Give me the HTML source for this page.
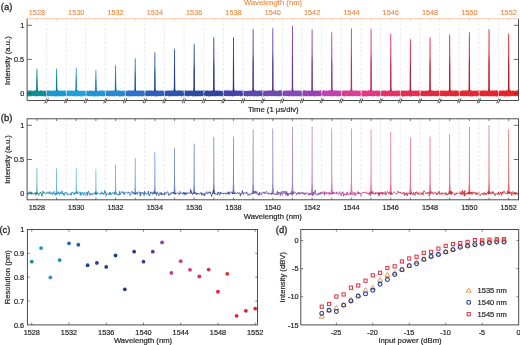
<!DOCTYPE html>
<html><head><meta charset="utf-8"><title>Figure</title>
<style>html,body{margin:0;padding:0;background:#fff;}svg{display:block;font-family:"Liberation Sans",Arial,Helvetica,sans-serif;}</style>
</head><body>
<svg width="520" height="345" viewBox="0 0 520 345" >
<rect width="520" height="345" fill="#ffffff"/>
<g id="panel-a">
<polygon points="27.25,90.5 27.75,90.28 28.24,90.38 28.74,90.82 29.24,90.76 29.73,90.3 30.23,91 30.72,90.34 31.22,90.36 31.72,90.63 32.21,90.76 32.71,90.78 33.21,90.8 33.7,90.64 34.2,90.6 34.69,90.56 35.19,90.2 35.69,90.37 36.18,90.5 36.68,90.21 37.18,90.83 37.67,90.87 38.17,90.51 38.67,90.96 39.16,90.97 39.66,90.59 40.15,90.63 40.65,90.27 41.15,90.5 41.64,90.59 42.14,90.6 42.64,90.8 43.13,90.99 43.63,90.85 44.12,90.45 44.62,90.84 45.12,90.7 45.61,91 46.11,90.34 46.61,90.88 46.61,95.92 46.11,96.26 45.61,96.52 45.12,96.56 44.62,96.48 44.12,95.91 43.63,96.33 43.13,96.5 42.64,96.04 42.14,96.34 41.64,95.97 41.15,96.57 40.65,95.88 40.15,96.12 39.66,95.99 39.16,96.15 38.67,95.92 38.17,96.34 37.67,96.31 37.18,96.28 36.68,96.27 36.18,96.58 35.69,96.1 35.19,96.45 34.69,95.92 34.2,96.06 33.7,96.11 33.21,95.85 32.71,96.28 32.21,96.09 31.72,96.5 31.22,96.21 30.72,96.23 30.23,95.87 29.73,96.39 29.24,96.31 28.74,96.48 28.24,96.21 27.75,96.5 27.25,96.01" fill="#109096"/>
<polygon points="35.73,91 36.18,89.5 36.23,86 36.33,80.77 36.48,69.77 36.73,68.27 37.13,68.27 37.38,69.77 37.53,80.77 37.65,86 37.73,89.5 38.23,91" fill="#109096"/>
<polygon points="36.18,91 36.43,88 36.51,80.77 36.83,76.5 37.03,76.5 37.38,80.77 37.48,88 37.78,91" fill="#0b676c" fill-opacity="0.8"/>
<polygon points="46.91,90.85 47.4,90.26 47.9,90.56 48.39,90.86 48.89,90.29 49.39,90.49 49.88,90.54 50.38,90.7 50.88,90.67 51.37,90.81 51.87,90.97 52.37,90.3 52.86,90.63 53.36,90.56 53.85,90.74 54.35,90.4 54.85,90.98 55.34,90.7 55.84,90.98 56.34,90.9 56.83,90.23 57.33,90.47 57.82,90.66 58.32,90.58 58.82,90.3 59.31,90.72 59.81,90.53 60.31,90.45 60.8,90.72 61.3,90.58 61.8,90.39 62.29,90.27 62.79,90.88 63.28,90.25 63.78,91 64.28,90.4 64.77,90.35 65.27,90.89 65.77,90.66 66.26,90.35 66.26,95.84 65.77,95.96 65.27,96.12 64.77,96.07 64.28,96.58 63.78,96.3 63.28,96.37 62.79,96.34 62.29,96.44 61.8,96 61.3,96.56 60.8,96.22 60.31,96.14 59.81,95.85 59.31,96.54 58.82,96.13 58.32,96.5 57.82,96.14 57.33,96.26 56.83,96.39 56.34,96.52 55.84,96.22 55.34,96.21 54.85,96.58 54.35,96.16 53.85,96.56 53.36,96.02 52.86,96.07 52.37,96.26 51.87,96.56 51.37,96.08 50.88,95.94 50.38,96.09 49.88,95.96 49.39,95.98 48.89,96.38 48.39,96.21 47.9,96.43 47.4,96.3 46.91,95.81" fill="#1b98cc"/>
<polygon points="55.38,91 55.83,89.5 55.88,86 55.98,80.77 56.13,69.77 56.38,68.27 56.78,68.27 57.03,69.77 57.18,80.77 57.3,86 57.38,89.5 57.88,91" fill="#1b98cc"/>
<polygon points="55.83,91 56.08,88 56.16,80.77 56.48,76.5 56.68,76.5 57.03,80.77 57.13,88 57.43,91" fill="#136d92" fill-opacity="0.8"/>
<polygon points="66.56,90.83 67.06,90.27 67.55,90.33 68.05,90.91 68.55,90.52 69.04,90.62 69.54,90.52 70.04,90.47 70.53,90.75 71.03,90.23 71.53,90.63 72.02,90.5 72.52,90.49 73.01,90.85 73.51,90.95 74.01,90.67 74.5,90.39 75,90.35 75.5,90.42 75.99,90.91 76.49,90.27 76.98,90.36 77.48,90.3 77.98,90.58 78.47,90.27 78.97,90.96 79.47,90.98 79.96,90.98 80.46,90.8 80.95,90.8 81.45,90.85 81.95,90.55 82.44,90.97 82.94,90.53 83.44,90.87 83.93,90.46 84.43,90.98 84.93,90.75 85.42,90.25 85.92,90.57 85.92,96.56 85.42,96.25 84.93,95.97 84.43,96.32 83.93,95.82 83.44,95.93 82.94,96.51 82.44,96.49 81.95,96.38 81.45,96.06 80.95,96.44 80.46,96.46 79.96,96.31 79.47,96.33 78.97,95.88 78.47,96.29 77.98,96.31 77.48,96.26 76.98,95.96 76.49,96.51 75.99,96.41 75.5,95.9 75,96.44 74.5,96.49 74.01,96.05 73.51,96.44 73.01,96.3 72.52,95.89 72.02,96.05 71.53,96.07 71.03,95.84 70.53,96.48 70.04,96.57 69.54,96.44 69.04,95.83 68.55,96.26 68.05,95.95 67.55,96.29 67.06,96.33 66.56,96.45" fill="#22a0dc"/>
<polygon points="75.04,91 75.49,89.5 75.54,86 75.64,80.46 75.79,69.08 76.04,67.58 76.44,67.58 76.69,69.08 76.84,80.46 76.96,86 77.04,89.5 77.54,91" fill="#22a0dc"/>
<polygon points="75.49,91 75.74,88 75.82,80.46 76.14,76.12 76.34,76.12 76.69,80.46 76.79,88 77.09,91" fill="#18739e" fill-opacity="0.8"/>
<polygon points="86.22,90.7 86.71,90.8 87.21,90.63 87.71,90.47 88.2,90.92 88.7,90.7 89.2,90.89 89.69,90.47 90.19,90.34 90.68,90.7 91.18,90.7 91.68,90.57 92.17,90.83 92.67,90.8 93.17,90.74 93.66,90.63 94.16,90.93 94.66,90.4 95.15,90.54 95.65,90.76 96.14,90.94 96.64,90.39 97.14,90.9 97.63,90.89 98.13,90.9 98.63,90.93 99.12,90.27 99.62,90.78 100.11,90.75 100.61,90.33 101.11,90.5 101.6,90.85 102.1,90.65 102.6,90.29 103.09,90.7 103.59,90.43 104.09,90.92 104.58,90.42 105.08,90.38 105.57,90.34 105.57,96.41 105.08,95.91 104.58,96.11 104.09,96.54 103.59,96.46 103.09,96.11 102.6,96.38 102.1,96.24 101.6,96.11 101.11,96.23 100.61,96.48 100.11,95.83 99.62,96.14 99.12,96.1 98.63,96.16 98.13,96.38 97.63,96.41 97.14,96.41 96.64,95.95 96.14,96.31 95.65,96.12 95.15,96.42 94.66,96.47 94.16,96.55 93.66,96.6 93.17,96.38 92.67,96.32 92.17,96.44 91.68,95.95 91.18,95.9 90.68,96.52 90.19,96.4 89.69,96.23 89.2,96.01 88.7,95.95 88.2,96.41 87.71,96.22 87.21,95.85 86.71,96.1 86.22,96.34" fill="#2296d4"/>
<polygon points="94.7,91 95.15,89.5 95.2,86 95.3,81.38 95.45,71.13 95.7,69.63 96.1,69.63 96.35,71.13 96.5,81.38 96.62,86 96.7,89.5 97.2,91" fill="#2296d4"/>
<polygon points="95.15,91 95.4,88 95.48,81.38 95.8,77.25 96,77.25 96.35,81.38 96.45,88 96.75,91" fill="#186c98" fill-opacity="0.8"/>
<polygon points="105.87,90.21 106.37,90.88 106.87,90.43 107.36,90.34 107.86,90.26 108.36,90.9 108.85,90.93 109.35,90.21 109.84,90.91 110.34,90.86 110.84,90.54 111.33,90.64 111.83,90.4 112.33,90.85 112.82,90.27 113.32,90.83 113.81,90.38 114.31,90.95 114.81,90.62 115.3,90.97 115.8,90.75 116.3,90.75 116.79,90.42 117.29,90.64 117.79,90.95 118.28,90.2 118.78,90.29 119.27,90.27 119.77,90.8 120.27,90.68 120.76,90.82 121.26,90.9 121.76,90.97 122.25,90.6 122.75,90.9 123.24,90.86 123.74,90.31 124.24,90.61 124.73,90.85 125.23,90.46 125.23,96.28 124.73,96.54 124.24,95.93 123.74,96.41 123.24,95.93 122.75,96.04 122.25,96.39 121.76,96.35 121.26,96.48 120.76,96.37 120.27,96.41 119.77,96.46 119.27,96.41 118.78,96.5 118.28,96.17 117.79,95.99 117.29,95.85 116.79,96.28 116.3,96.05 115.8,95.83 115.3,96.53 114.81,96.2 114.31,96.21 113.81,95.97 113.32,96.58 112.82,95.98 112.33,96.55 111.83,96.58 111.33,95.89 110.84,95.91 110.34,95.94 109.84,96.5 109.35,96.43 108.85,96.12 108.36,96.23 107.86,96.3 107.36,96.21 106.87,96.03 106.37,96.22 105.87,96.01" fill="#2888d0"/>
<polygon points="114.35,91 114.8,89.5 114.85,86 114.95,79.24 115.1,66.36 115.35,64.86 115.75,64.86 116,66.36 116.15,79.24 116.27,86 116.35,89.5 116.85,91" fill="#2888d0"/>
<polygon points="114.8,91 115.05,88 115.13,79.24 115.45,74.62 115.65,74.62 116,79.24 116.1,88 116.4,91" fill="#1c6195" fill-opacity="0.8"/>
<polygon points="125.53,90.74 126.03,90.25 126.52,90.88 127.02,90.59 127.52,90.93 128.01,90.23 128.51,90.54 129,90.36 129.5,90.77 130,90.36 130.49,90.44 130.99,90.49 131.49,90.24 131.98,90.65 132.48,90.67 132.97,90.45 133.47,90.33 133.97,90.73 134.46,90.46 134.96,90.83 135.46,90.56 135.95,90.38 136.45,90.95 136.95,90.42 137.44,90.99 137.94,90.23 138.43,90.63 138.93,90.67 139.43,90.42 139.92,90.58 140.42,90.42 140.92,90.93 141.41,90.55 141.91,90.55 142.4,90.25 142.9,90.97 143.4,90.64 143.89,90.5 144.39,90.56 144.89,90.94 144.89,95.95 144.39,96.14 143.89,96.27 143.4,96.34 142.9,96.33 142.4,96.25 141.91,96.26 141.41,96.49 140.92,96.11 140.42,95.83 139.92,96.37 139.43,96.16 138.93,96.43 138.43,96.48 137.94,96.1 137.44,96.46 136.95,96.07 136.45,96.2 135.95,96.4 135.46,96.17 134.96,96.1 134.46,96.4 133.97,96.12 133.47,96.25 132.97,96.12 132.48,96.31 131.98,96.34 131.49,96.46 130.99,96.3 130.49,96.17 130,96.45 129.5,96.24 129,96.37 128.51,96.4 128.01,96.16 127.52,95.96 127.02,96.5 126.52,95.96 126.03,95.98 125.53,96.27" fill="#2c72c8"/>
<polygon points="134.01,91 134.46,89.5 134.51,86 134.61,76.17 134.76,59.54 135.01,58.04 135.41,58.04 135.66,59.54 135.81,76.17 135.93,86 136.01,89.5 136.51,91" fill="#2c72c8"/>
<polygon points="134.46,91 134.71,88 134.79,76.17 135.11,70.87 135.31,70.87 135.66,76.17 135.76,88 136.06,91" fill="#1f5290" fill-opacity="0.8"/>
<polygon points="145.19,90.77 145.68,90.77 146.18,90.66 146.67,90.2 147.17,90.72 147.67,90.64 148.16,90.7 148.66,90.53 149.16,90.24 149.65,90.29 150.15,90.7 150.65,90.79 151.14,90.29 151.64,90.6 152.13,90.45 152.63,90.94 153.13,90.31 153.62,90.75 154.12,90.6 154.62,90.84 155.11,90.66 155.61,90.34 156.1,90.34 156.6,90.62 157.1,90.39 157.59,90.63 158.09,90.7 158.59,90.56 159.08,90.84 159.58,90.75 160.08,90.43 160.57,90.38 161.07,90.95 161.56,90.41 162.06,90.35 162.56,90.64 163.05,90.95 163.55,90.45 164.05,90.8 164.54,90.49 164.54,95.93 164.05,95.95 163.55,95.82 163.05,96.57 162.56,96.03 162.06,95.94 161.56,95.91 161.07,95.91 160.57,96.31 160.08,96.15 159.58,95.91 159.08,96.19 158.59,96.15 158.09,96.01 157.59,96.08 157.1,96.4 156.6,96.41 156.1,96.3 155.61,96.33 155.11,96.54 154.62,96.19 154.12,96.41 153.62,96.06 153.13,95.91 152.63,95.96 152.13,96.37 151.64,96.42 151.14,96.14 150.65,95.85 150.15,96.01 149.65,96.04 149.16,96.03 148.66,96.57 148.16,95.96 147.67,96.3 147.17,96.22 146.67,96.18 146.18,96.01 145.68,96.31 145.19,96.1" fill="#2d5ebc"/>
<polygon points="153.66,91 154.11,89.5 154.16,86 154.26,73.4 154.41,53.4 154.66,51.9 155.06,51.9 155.31,53.4 155.46,73.4 155.58,86 155.66,89.5 156.16,91" fill="#2d5ebc"/>
<polygon points="154.11,91 154.36,88 154.44,73.4 154.76,67.49 154.96,67.49 155.31,73.4 155.41,88 155.71,91" fill="#204387" fill-opacity="0.8"/>
<polygon points="164.84,90.62 165.34,90.99 165.83,90.63 166.33,90.87 166.83,90.78 167.32,90.37 167.82,90.85 168.32,90.51 168.81,90.67 169.31,90.67 169.81,90.35 170.3,90.87 170.8,90.26 171.29,90.29 171.79,90.47 172.29,90.96 172.78,90.47 173.28,90.52 173.78,90.38 174.27,90.83 174.77,90.24 175.26,90.29 175.76,90.91 176.26,90.75 176.75,90.97 177.25,90.34 177.75,90.27 178.24,90.21 178.74,90.51 179.23,90.47 179.73,90.46 180.23,90.54 180.72,90.24 181.22,90.51 181.72,90.73 182.21,90.59 182.71,90.99 183.21,90.42 183.7,90.44 184.2,90.66 184.2,96.49 183.7,96.16 183.21,96.3 182.71,96.05 182.21,96.29 181.72,96.41 181.22,96.02 180.72,95.87 180.23,96.48 179.73,96.24 179.23,95.83 178.74,96.21 178.24,95.89 177.75,96.45 177.25,95.9 176.75,96.36 176.26,96.01 175.76,96.55 175.26,96.01 174.77,95.97 174.27,96.35 173.78,96.44 173.28,95.91 172.78,96 172.29,96.43 171.79,95.8 171.29,96.12 170.8,96.48 170.3,96.34 169.81,96.52 169.31,96.02 168.81,96.54 168.32,96.16 167.82,96.04 167.32,95.95 166.83,95.91 166.33,95.86 165.83,96.07 165.34,96.4 164.84,96.48" fill="#2c52b0"/>
<polygon points="173.32,91 173.77,89.5 173.82,86 173.92,71.87 174.07,49.99 174.32,48.49 174.72,48.49 174.97,49.99 175.12,71.87 175.24,86 175.32,89.5 175.82,91" fill="#2c52b0"/>
<polygon points="173.77,91 174.02,88 174.1,71.87 174.42,65.62 174.62,65.62 174.97,71.87 175.07,88 175.37,91" fill="#1f3b7e" fill-opacity="0.8"/>
<polygon points="184.5,90.77 184.99,90.39 185.49,90.49 185.99,90.41 186.48,90.7 186.98,90.42 187.48,90.44 187.97,90.69 188.47,90.98 188.96,90.23 189.46,90.43 189.96,90.84 190.45,90.42 190.95,90.78 191.45,90.62 191.94,90.31 192.44,90.64 192.94,90.77 193.43,90.76 193.93,90.94 194.42,90.82 194.92,90.78 195.42,90.86 195.91,90.95 196.41,90.63 196.91,90.83 197.4,90.41 197.9,90.26 198.39,90.78 198.89,90.54 199.39,90.59 199.88,90.94 200.38,90.9 200.88,90.29 201.37,90.62 201.87,90.36 202.37,90.95 202.86,90.52 203.36,90.31 203.85,90.31 203.85,96.25 203.36,96.35 202.86,96.23 202.37,96.1 201.87,96.02 201.37,96.12 200.88,96.39 200.38,96.24 199.88,95.91 199.39,96.45 198.89,96.3 198.39,95.93 197.9,96.19 197.4,96.27 196.91,95.96 196.41,96.24 195.91,96.44 195.42,96.27 194.92,96.4 194.42,96.26 193.93,96.06 193.43,96.32 192.94,96.26 192.44,96.56 191.94,96.25 191.45,95.87 190.95,95.92 190.45,96.11 189.96,95.83 189.46,96.06 188.96,96.57 188.47,96.16 187.97,96.18 187.48,96.45 186.98,96.01 186.48,95.86 185.99,96.41 185.49,96.1 184.99,96.22 184.5,95.8" fill="#2c4aa6"/>
<polygon points="192.98,91 193.43,89.5 193.48,86 193.58,69.72 193.73,45.21 193.98,43.71 194.38,43.71 194.63,45.21 194.78,69.72 194.9,86 194.98,89.5 195.48,91" fill="#2c4aa6"/>
<polygon points="193.43,91 193.68,88 193.76,69.72 194.08,62.99 194.28,62.99 194.63,69.72 194.73,88 195.03,91" fill="#1f3577" fill-opacity="0.8"/>
<polygon points="204.15,90.91 204.65,90.35 205.15,90.26 205.64,90.92 206.14,90.8 206.64,90.86 207.13,90.32 207.63,90.27 208.12,90.96 208.62,90.73 209.12,90.85 209.61,90.62 210.11,90.26 210.61,90.94 211.1,90.86 211.6,90.61 212.09,90.58 212.59,90.4 213.09,90.65 213.58,90.89 214.08,90.72 214.58,90.21 215.07,90.4 215.57,90.91 216.07,90.35 216.56,90.75 217.06,90.37 217.55,90.99 218.05,90.3 218.55,90.87 219.04,90.64 219.54,90.47 220.04,90.59 220.53,90.87 221.03,90.89 221.52,90.77 222.02,90.96 222.52,90.83 223.01,90.9 223.51,90.63 223.51,96.34 223.01,96.39 222.52,96.25 222.02,96.17 221.52,96.25 221.03,95.85 220.53,96.29 220.04,96.53 219.54,95.83 219.04,96.55 218.55,96.07 218.05,95.87 217.55,95.88 217.06,96.52 216.56,95.9 216.07,96.36 215.57,96.58 215.07,95.91 214.58,96.18 214.08,96.37 213.58,95.92 213.09,96.55 212.59,96.28 212.09,96.15 211.6,95.91 211.1,96 210.61,96.39 210.11,96.05 209.61,96.53 209.12,96.51 208.62,96.13 208.12,96.4 207.63,96.12 207.13,96 206.64,96.4 206.14,96.06 205.64,95.83 205.15,96.02 204.65,96.27 204.15,96.09" fill="#2e44a0"/>
<polygon points="212.63,91 213.08,89.5 213.13,86 213.23,66.65 213.38,38.39 213.63,36.89 214.03,36.89 214.28,38.39 214.43,66.65 214.55,86 214.63,89.5 215.13,91" fill="#2e44a0"/>
<polygon points="213.08,91 213.33,88 213.41,66.65 213.73,59.24 213.93,59.24 214.28,66.65 214.38,88 214.68,91" fill="#213073" fill-opacity="0.8"/>
<polygon points="223.81,90.2 224.31,90.87 224.8,90.35 225.3,90.67 225.8,90.37 226.29,90.29 226.79,90.21 227.28,90.79 227.78,90.64 228.28,90.25 228.77,90.24 229.27,90.7 229.77,90.25 230.26,90.68 230.76,90.7 231.25,90.39 231.75,90.62 232.25,90.64 232.74,90.69 233.24,90.65 233.74,90.89 234.23,90.95 234.73,90.4 235.23,90.55 235.72,90.46 236.22,90.36 236.71,90.82 237.21,90.81 237.71,90.78 238.2,90.76 238.7,90.39 239.2,90.7 239.69,90.74 240.19,90.49 240.68,90.85 241.18,90.91 241.68,90.44 242.17,90.39 242.67,90.76 243.17,90.49 243.17,96.57 242.67,96 242.17,95.81 241.68,96.37 241.18,95.96 240.68,96.15 240.19,96.54 239.69,95.82 239.2,95.86 238.7,96.07 238.2,95.96 237.71,95.86 237.21,96.24 236.71,95.83 236.22,95.8 235.72,96.06 235.23,96.07 234.73,96.36 234.23,96.28 233.74,96.22 233.24,95.83 232.74,96.56 232.25,96.59 231.75,96.28 231.25,96.03 230.76,96.59 230.26,95.96 229.77,96 229.27,95.96 228.77,96.58 228.28,95.86 227.78,96.37 227.28,95.92 226.79,96.27 226.29,96.29 225.8,96.08 225.3,96 224.8,96.26 224.31,96.12 223.81,95.83" fill="#4442a8"/>
<polygon points="232.29,91 232.74,89.5 232.79,86 232.89,66.65 233.04,38.39 233.29,36.89 233.69,36.89 233.94,38.39 234.09,66.65 234.21,86 234.29,89.5 234.79,91" fill="#4442a8"/>
<polygon points="232.74,91 232.99,88 233.07,66.65 233.39,59.24 233.59,59.24 233.94,66.65 234.04,88 234.34,91" fill="#302f78" fill-opacity="0.8"/>
<polygon points="243.47,90.28 243.96,90.49 244.46,90.93 244.95,90.75 245.45,90.98 245.95,90.82 246.44,90.98 246.94,90.9 247.44,90.49 247.93,90.92 248.43,90.88 248.93,90.28 249.42,90.73 249.92,90.73 250.41,90.93 250.91,90.36 251.41,90.46 251.9,90.56 252.4,90.51 252.9,90.92 253.39,90.79 253.89,90.53 254.38,90.24 254.88,90.35 255.38,90.49 255.87,90.58 256.37,90.99 256.87,90.29 257.36,90.95 257.86,90.9 258.36,90.45 258.85,90.35 259.35,90.37 259.84,90.64 260.34,90.86 260.84,90.97 261.33,90.32 261.83,90.22 262.33,90.8 262.82,90.31 262.82,95.85 262.33,96.23 261.83,96.58 261.33,96.18 260.84,95.96 260.34,96.36 259.84,95.81 259.35,96.45 258.85,95.97 258.36,96.26 257.86,96.38 257.36,96.3 256.87,96.47 256.37,96.13 255.87,95.92 255.38,95.9 254.88,96.56 254.38,96.56 253.89,96.15 253.39,96.2 252.9,96.21 252.4,95.84 251.9,96.26 251.41,96.59 250.91,95.84 250.41,95.88 249.92,96.2 249.42,96.55 248.93,96.02 248.43,96.05 247.93,96.52 247.44,96.5 246.94,96.2 246.44,96.37 245.95,95.96 245.45,96.15 244.95,95.81 244.46,96.2 243.96,96.05 243.47,96.12" fill="#5a46ac"/>
<polygon points="251.94,91 252.39,89.5 252.44,86 252.54,62.97 252.69,30.21 252.94,28.71 253.34,28.71 253.59,30.21 253.74,62.97 253.86,86 253.94,89.5 254.44,91" fill="#5a46ac"/>
<polygon points="252.39,91 252.64,88 252.72,62.97 253.04,54.74 253.24,54.74 253.59,62.97 253.69,88 253.99,91" fill="#40327b" fill-opacity="0.8"/>
<polygon points="263.12,90.66 263.62,90.47 264.11,90.95 264.61,90.8 265.11,90.99 265.6,90.57 266.1,90.69 266.6,90.6 267.09,90.76 267.59,90.47 268.09,90.86 268.58,90.27 269.08,90.23 269.57,90.61 270.07,90.63 270.57,90.31 271.06,90.77 271.56,90.36 272.06,90.77 272.55,90.42 273.05,90.73 273.54,90.52 274.04,90.26 274.54,90.96 275.03,90.35 275.53,90.57 276.03,90.7 276.52,90.72 277.02,90.94 277.51,90.79 278.01,90.5 278.51,90.92 279,90.46 279.5,90.23 280,90.22 280.49,90.29 280.99,90.35 281.49,90.86 281.98,90.22 282.48,90.84 282.48,95.81 281.98,96.57 281.49,96.04 280.99,95.82 280.49,96.59 280,95.91 279.5,95.88 279,96.34 278.51,96.5 278.01,96.2 277.51,96.12 277.02,96.52 276.52,96.05 276.03,96.37 275.53,96 275.03,96.52 274.54,96.17 274.04,96.12 273.54,96.03 273.05,96.33 272.55,95.96 272.06,96.14 271.56,96.14 271.06,96.27 270.57,95.95 270.07,95.91 269.57,96.01 269.08,95.81 268.58,95.91 268.09,96.54 267.59,96.44 267.09,95.9 266.6,95.9 266.1,96.03 265.6,96.22 265.11,95.96 264.61,96.22 264.11,96.3 263.62,96.5 263.12,96.5" fill="#7049b0"/>
<polygon points="271.6,91 272.05,89.5 272.1,86 272.2,62.51 272.35,29.19 272.6,27.69 273,27.69 273.25,29.19 273.4,62.51 273.52,86 273.6,89.5 274.1,91" fill="#7049b0"/>
<polygon points="272.05,91 272.3,88 272.38,62.51 272.7,54.18 272.9,54.18 273.25,62.51 273.35,88 273.65,91" fill="#50347e" fill-opacity="0.8"/>
<polygon points="282.78,90.87 283.27,90.83 283.77,90.93 284.27,90.62 284.76,90.53 285.26,90.75 285.76,90.91 286.25,90.35 286.75,90.36 287.24,90.55 287.74,90.89 288.24,90.57 288.73,90.5 289.23,90.66 289.73,90.31 290.22,90.69 290.72,90.59 291.22,90.91 291.71,90.55 292.21,90.39 292.7,90.41 293.2,90.79 293.7,90.21 294.19,90.42 294.69,90.66 295.19,90.67 295.68,90.38 296.18,90.86 296.67,90.49 297.17,90.42 297.67,90.59 298.16,90.3 298.66,90.63 299.16,90.63 299.65,90.77 300.15,90.26 300.65,90.75 301.14,90.44 301.64,90.67 302.13,90.25 302.13,96.17 301.64,96.59 301.14,96.27 300.65,95.85 300.15,96.49 299.65,96.39 299.16,96.24 298.66,96.04 298.16,96.21 297.67,95.92 297.17,96.16 296.67,96.4 296.18,95.9 295.68,95.87 295.19,96.52 294.69,96.03 294.19,96.42 293.7,96.04 293.2,96.32 292.7,96.5 292.21,95.9 291.71,96.57 291.22,96.1 290.72,95.8 290.22,96.26 289.73,96.06 289.23,96.55 288.73,96.46 288.24,96.28 287.74,96.04 287.24,96.09 286.75,95.95 286.25,96.24 285.76,95.84 285.26,96.2 284.76,95.86 284.27,96.28 283.77,96.6 283.27,95.82 282.78,96.56" fill="#8449b6"/>
<polygon points="291.26,91 291.71,89.5 291.76,86 291.86,61.44 292.01,26.8 292.26,25.3 292.66,25.3 292.91,26.8 293.06,61.44 293.18,86 293.26,89.5 293.76,91" fill="#8449b6"/>
<polygon points="291.71,91 291.96,88 292.04,61.44 292.36,52.86 292.56,52.86 292.91,61.44 293.01,88 293.31,91" fill="#5f3483" fill-opacity="0.8"/>
<polygon points="302.43,90.38 302.93,90.92 303.43,90.3 303.92,90.53 304.42,90.29 304.92,90.37 305.41,90.3 305.91,90.95 306.4,90.43 306.9,90.84 307.4,90.79 307.89,90.74 308.39,90.53 308.89,90.5 309.38,90.25 309.88,90.99 310.37,90.85 310.87,90.71 311.37,90.35 311.86,90.56 312.36,90.59 312.86,90.39 313.35,90.48 313.85,90.77 314.35,90.93 314.84,90.63 315.34,90.3 315.83,90.52 316.33,90.96 316.83,90.65 317.32,90.69 317.82,90.53 318.32,90.53 318.81,90.24 319.31,90.73 319.8,90.67 320.3,90.51 320.8,90.29 321.29,90.44 321.79,90.62 321.79,95.97 321.29,95.87 320.8,96.54 320.3,96.06 319.8,96.24 319.31,96.01 318.81,96.12 318.32,96.53 317.82,96.21 317.32,95.87 316.83,96.59 316.33,96.19 315.83,96.18 315.34,95.93 314.84,96.44 314.35,96.53 313.85,96.31 313.35,96.13 312.86,96 312.36,96.2 311.86,95.9 311.37,96.18 310.87,96.51 310.37,95.9 309.88,96.04 309.38,96.5 308.89,96.57 308.39,95.85 307.89,96.43 307.4,95.87 306.9,96.21 306.4,96.29 305.91,96.48 305.41,96.04 304.92,96.46 304.42,95.9 303.92,96.03 303.43,96.57 302.93,96.19 302.43,96.45" fill="#9a42b4"/>
<polygon points="310.91,91 311.36,89.5 311.41,86 311.51,62.97 311.66,30.21 311.91,28.71 312.31,28.71 312.56,30.21 312.71,62.97 312.83,86 312.91,89.5 313.41,91" fill="#9a42b4"/>
<polygon points="311.36,91 311.61,88 311.69,62.97 312.01,54.74 312.21,54.74 312.56,62.97 312.66,88 312.96,91" fill="#6e2f81" fill-opacity="0.8"/>
<polygon points="322.09,90.93 322.59,90.43 323.08,90.77 323.58,90.28 324.08,90.29 324.57,90.25 325.07,90.8 325.56,91 326.06,90.69 326.56,90.23 327.05,90.39 327.55,90.95 328.05,90.44 328.54,90.27 329.04,90.23 329.53,90.43 330.03,90.31 330.53,90.33 331.02,90.71 331.52,90.92 332.02,90.42 332.51,90.89 333.01,90.69 333.51,90.2 334,90.55 334.5,90.58 334.99,90.24 335.49,90.77 335.99,90.2 336.48,90.27 336.98,90.71 337.48,90.74 337.97,90.9 338.47,90.27 338.96,90.85 339.46,90.99 339.96,90.29 340.45,90.52 340.95,90.46 341.45,90.41 341.45,96.02 340.95,96.19 340.45,96.09 339.96,96.13 339.46,96.17 338.96,96.37 338.47,96.11 337.97,96.35 337.48,96.59 336.98,96.29 336.48,96.22 335.99,96.17 335.49,95.94 334.99,96.42 334.5,95.81 334,96.58 333.51,96.37 333.01,95.86 332.51,96.08 332.02,96.39 331.52,96.55 331.02,96.37 330.53,96.24 330.03,96.13 329.53,95.94 329.04,96.55 328.54,95.84 328.05,96.23 327.55,95.9 327.05,96.52 326.56,95.99 326.06,95.84 325.56,96.29 325.07,96.33 324.57,96.39 324.08,96.2 323.58,95.84 323.08,96.2 322.59,95.87 322.09,95.83" fill="#c040ac"/>
<polygon points="330.57,91 331.02,89.5 331.07,86 331.17,64.2 331.32,32.94 331.57,31.44 331.97,31.44 332.22,32.94 332.37,64.2 332.49,86 332.57,89.5 333.07,91" fill="#c040ac"/>
<polygon points="331.02,91 331.27,88 331.35,64.2 331.67,56.24 331.87,56.24 332.22,64.2 332.32,88 332.62,91" fill="#8a2e7b" fill-opacity="0.8"/>
<polygon points="341.75,90.81 342.24,90.88 342.74,90.65 343.23,90.77 343.73,90.33 344.23,90.32 344.72,90.72 345.22,90.5 345.72,90.28 346.21,90.71 346.71,90.56 347.21,90.65 347.7,90.48 348.2,90.23 348.69,90.89 349.19,90.23 349.69,90.47 350.18,90.36 350.68,90.49 351.18,90.3 351.67,90.74 352.17,90.43 352.66,90.79 353.16,90.59 353.66,90.45 354.15,90.84 354.65,90.95 355.15,90.37 355.64,90.35 356.14,90.47 356.64,90.74 357.13,90.47 357.63,90.93 358.12,90.47 358.62,90.54 359.12,90.51 359.61,90.64 360.11,90.82 360.61,90.42 361.1,90.63 361.1,95.89 360.61,96.2 360.11,96.09 359.61,95.9 359.12,96.51 358.62,95.9 358.12,96.3 357.63,95.88 357.13,96.08 356.64,96.51 356.14,96.33 355.64,95.86 355.15,96.11 354.65,95.98 354.15,96.2 353.66,95.81 353.16,96.25 352.66,96.17 352.17,96.29 351.67,96.08 351.18,96.34 350.68,96.11 350.18,96.34 349.69,96.31 349.19,96.36 348.69,96.22 348.2,96.19 347.7,96.06 347.21,96.1 346.71,96.36 346.21,96.01 345.72,96.42 345.22,95.85 344.72,96.51 344.23,96.54 343.73,96.3 343.23,96.23 342.74,95.87 342.24,96.09 341.75,96.4" fill="#dc3e94"/>
<polygon points="350.22,91 350.67,89.5 350.72,86 350.82,62.66 350.97,29.53 351.22,28.03 351.62,28.03 351.87,29.53 352.02,62.66 352.14,86 352.22,89.5 352.72,91" fill="#dc3e94"/>
<polygon points="350.67,91 350.92,88 351,62.66 351.32,54.37 351.52,54.37 351.87,62.66 351.97,88 352.27,91" fill="#9e2c6a" fill-opacity="0.8"/>
<polygon points="361.4,90.75 361.9,90.78 362.39,90.43 362.89,90.21 363.39,90.71 363.88,90.37 364.38,90.89 364.88,90.54 365.37,90.65 365.87,90.77 366.37,90.34 366.86,90.4 367.36,90.89 367.85,90.77 368.35,90.34 368.85,90.21 369.34,90.51 369.84,90.3 370.34,90.21 370.83,90.41 371.33,90.48 371.82,90.82 372.32,90.7 372.82,90.5 373.31,90.26 373.81,90.76 374.31,90.68 374.8,90.98 375.3,90.44 375.79,90.65 376.29,90.36 376.79,90.81 377.28,90.47 377.78,90.46 378.28,90.63 378.77,90.85 379.27,90.68 379.77,90.4 380.26,90.85 380.76,90.93 380.76,95.96 380.26,96.2 379.77,96.08 379.27,96.15 378.77,96.44 378.28,96.21 377.78,96.49 377.28,96.41 376.79,95.87 376.29,96.56 375.79,96.11 375.3,95.87 374.8,96.21 374.31,95.97 373.81,96.59 373.31,96.34 372.82,96.35 372.32,96.48 371.82,96.14 371.33,96.09 370.83,96.19 370.34,95.92 369.84,96.06 369.34,96.07 368.85,96.21 368.35,96.34 367.85,96.04 367.36,96.46 366.86,96.36 366.37,96.4 365.87,96.38 365.37,96.46 364.88,95.95 364.38,96.32 363.88,96.47 363.39,96.56 362.89,96.45 362.39,96.44 361.9,95.99 361.4,96.17" fill="#e2387c"/>
<polygon points="369.88,91 370.33,89.5 370.38,86 370.48,62.82 370.63,29.87 370.88,28.37 371.28,28.37 371.53,29.87 371.68,62.82 371.8,86 371.88,89.5 372.38,91" fill="#e2387c"/>
<polygon points="370.33,91 370.58,88 370.66,62.82 370.98,54.55 371.18,54.55 371.53,62.82 371.63,88 371.93,91" fill="#a22859" fill-opacity="0.8"/>
<polygon points="381.06,90.75 381.55,90.76 382.05,90.21 382.55,90.73 383.04,90.82 383.54,90.25 384.04,90.89 384.53,90.23 385.03,90.32 385.52,90.48 386.02,90.66 386.52,90.84 387.01,90.92 387.51,90.92 388.01,90.72 388.5,90.67 389,90.26 389.5,90.57 389.99,90.21 390.49,90.42 390.98,90.88 391.48,90.56 391.98,90.87 392.47,90.97 392.97,90.24 393.47,90.73 393.96,90.85 394.46,90.92 394.95,90.48 395.45,90.63 395.95,90.99 396.44,90.43 396.94,90.79 397.44,90.38 397.93,90.61 398.43,90.57 398.93,90.63 399.42,90.46 399.92,90.21 400.41,90.36 400.41,95.95 399.92,96.07 399.42,96.49 398.93,96.31 398.43,96.08 397.93,96.08 397.44,96.28 396.94,96.54 396.44,96.44 395.95,96.04 395.45,95.83 394.95,96.35 394.46,96.59 393.96,96.4 393.47,96.03 392.97,96.05 392.47,95.94 391.98,95.88 391.48,96.38 390.98,96.32 390.49,96.34 389.99,96.18 389.5,96.02 389,95.86 388.5,96.42 388.01,96.14 387.51,96.03 387.01,96.15 386.52,96.11 386.02,96.05 385.52,96.36 385.03,96.48 384.53,96.4 384.04,96.57 383.54,96 383.04,95.96 382.55,95.88 382.05,95.99 381.55,96.2 381.06,95.86" fill="#e43266"/>
<polygon points="389.54,91 389.99,89.5 390.04,86 390.14,65.12 390.29,34.98 390.54,33.48 390.94,33.48 391.19,34.98 391.34,65.12 391.46,86 391.54,89.5 392.04,91" fill="#e43266"/>
<polygon points="389.99,91 390.24,88 390.32,65.12 390.64,57.37 390.84,57.37 391.19,65.12 391.29,88 391.59,91" fill="#a42449" fill-opacity="0.8"/>
<polygon points="400.71,91 401.21,90.89 401.71,90.32 402.2,90.5 402.7,90.21 403.2,90.94 403.69,90.71 404.19,90.36 404.68,90.47 405.18,90.95 405.68,90.68 406.17,90.49 406.67,90.45 407.17,90.64 407.66,90.85 408.16,90.23 408.65,90.63 409.15,90.43 409.65,90.57 410.14,90.94 410.64,90.81 411.14,90.95 411.63,90.85 412.13,90.84 412.63,90.67 413.12,90.74 413.62,90.71 414.11,90.35 414.61,90.98 415.11,90.92 415.6,90.35 416.1,90.57 416.6,90.65 417.09,90.79 417.59,90.57 418.08,90.82 418.58,90.31 419.08,90.34 419.57,90.74 420.07,90.98 420.07,96.5 419.57,95.98 419.08,96.25 418.58,96.3 418.08,96.48 417.59,96.52 417.09,95.98 416.6,95.8 416.1,96.38 415.6,96.06 415.11,96.05 414.61,95.86 414.11,96.02 413.62,96.47 413.12,95.8 412.63,96.1 412.13,96.02 411.63,96.34 411.14,96.38 410.64,96.57 410.14,96.55 409.65,96.57 409.15,96.17 408.65,96.11 408.16,95.93 407.66,95.91 407.17,96.47 406.67,96.41 406.17,96.07 405.68,96.18 405.18,96.01 404.68,96.17 404.19,96.47 403.69,96.19 403.2,96.49 402.7,96.44 402.2,96.49 401.71,96.33 401.21,96.04 400.71,96.51" fill="#e42c54"/>
<polygon points="409.19,91 409.64,89.5 409.69,86 409.79,67.57 409.94,40.44 410.19,38.94 410.59,38.94 410.84,40.44 410.99,67.57 411.11,86 411.19,89.5 411.69,91" fill="#e42c54"/>
<polygon points="409.64,91 409.89,88 409.97,67.57 410.29,60.37 410.49,60.37 410.84,67.57 410.94,88 411.24,91" fill="#a41f3c" fill-opacity="0.8"/>
<polygon points="420.37,90.39 420.87,90.59 421.36,90.87 421.86,90.83 422.36,90.7 422.85,90.74 423.35,90.95 423.84,90.67 424.34,90.64 424.84,90.77 425.33,90.69 425.83,90.73 426.33,90.7 426.82,90.5 427.32,90.6 427.81,90.84 428.31,90.36 428.81,90.59 429.3,90.63 429.8,90.43 430.3,90.4 430.79,90.32 431.29,90.35 431.79,90.46 432.28,90.42 432.78,90.87 433.27,90.44 433.77,90.8 434.27,90.79 434.76,90.9 435.26,90.68 435.76,90.98 436.25,90.47 436.75,90.4 437.24,90.38 437.74,90.9 438.24,90.49 438.73,90.33 439.23,90.97 439.73,90.85 439.73,96.33 439.23,95.93 438.73,96.1 438.24,96.13 437.74,95.95 437.24,96.55 436.75,96.52 436.25,95.84 435.76,96.09 435.26,96.23 434.76,96.03 434.27,96.58 433.77,95.81 433.27,95.96 432.78,96.16 432.28,95.83 431.79,96.15 431.29,96.42 430.79,96.09 430.3,96.01 429.8,96 429.3,96.21 428.81,96.21 428.31,96.15 427.81,96.02 427.32,96.26 426.82,96.56 426.33,95.85 425.83,96.38 425.33,96.39 424.84,96.37 424.34,96 423.84,96.35 423.35,96.23 422.85,96.32 422.36,96.08 421.86,96.23 421.36,95.94 420.87,96.17 420.37,96.01" fill="#e02a42"/>
<polygon points="428.85,91 429.3,89.5 429.35,86 429.45,66.65 429.6,38.39 429.85,36.89 430.25,36.89 430.5,38.39 430.65,66.65 430.77,86 430.85,89.5 431.35,91" fill="#e02a42"/>
<polygon points="429.3,91 429.55,88 429.63,66.65 429.95,59.24 430.15,59.24 430.5,66.65 430.6,88 430.9,91" fill="#a11e2f" fill-opacity="0.8"/>
<polygon points="440.03,90.37 440.52,90.39 441.02,90.46 441.51,90.99 442.01,90.82 442.51,90.59 443,90.44 443.5,90.69 444,90.64 444.49,90.33 444.99,90.98 445.49,90.79 445.98,90.77 446.48,90.21 446.97,90.82 447.47,90.96 447.97,90.67 448.46,90.48 448.96,90.88 449.46,90.33 449.95,90.84 450.45,90.44 450.94,90.87 451.44,90.29 451.94,90.84 452.43,90.41 452.93,90.33 453.43,90.8 453.92,90.93 454.42,90.53 454.92,90.6 455.41,90.62 455.91,90.37 456.4,90.63 456.9,90.6 457.4,90.61 457.89,90.64 458.39,90.68 458.89,90.87 459.38,90.76 459.38,95.81 458.89,96.57 458.39,95.85 457.89,96.16 457.4,95.83 456.9,95.99 456.4,96.46 455.91,96.52 455.41,96.56 454.92,96.51 454.42,96.12 453.92,95.88 453.43,96.51 452.93,95.87 452.43,96.28 451.94,96.13 451.44,96.55 450.94,96.02 450.45,96.27 449.95,96.33 449.46,95.96 448.96,95.85 448.46,96.56 447.97,95.99 447.47,96.13 446.97,96.16 446.48,96.14 445.98,96.48 445.49,96.58 444.99,96.34 444.49,96.2 444,96.1 443.5,95.99 443,96.05 442.51,96.22 442.01,95.96 441.51,95.89 441.02,96.43 440.52,96 440.03,96.01" fill="#e02a36"/>
<polygon points="448.5,91 448.95,89.5 449,86 449.1,65.42 449.25,35.67 449.5,34.17 449.9,34.17 450.15,35.67 450.3,65.42 450.42,86 450.5,89.5 451,91" fill="#e02a36"/>
<polygon points="448.95,91 449.2,88 449.28,65.42 449.6,57.74 449.8,57.74 450.15,65.42 450.25,88 450.55,91" fill="#a11e26" fill-opacity="0.8"/>
<polygon points="459.68,90.74 460.18,90.84 460.67,90.99 461.17,90.6 461.67,90.94 462.16,90.28 462.66,90.45 463.16,90.7 463.65,90.33 464.15,90.36 464.65,90.74 465.14,90.32 465.64,90.26 466.13,90.5 466.63,90.72 467.13,90.28 467.62,90.25 468.12,90.72 468.62,90.93 469.11,90.31 469.61,90.47 470.1,90.81 470.6,90.55 471.1,90.75 471.59,90.26 472.09,90.73 472.59,90.84 473.08,90.97 473.58,90.73 474.07,90.21 474.57,90.83 475.07,90.63 475.56,90.22 476.06,90.99 476.56,90.76 477.05,90.34 477.55,90.92 478.05,90.26 478.54,90.33 479.04,90.89 479.04,96.47 478.54,96.03 478.05,96 477.55,96.55 477.05,95.81 476.56,96.42 476.06,96.38 475.56,96.15 475.07,95.87 474.57,95.97 474.07,96.22 473.58,96.02 473.08,96.58 472.59,96.37 472.09,96.58 471.59,96.47 471.1,96.45 470.6,96.39 470.1,95.89 469.61,96.45 469.11,96.04 468.62,96.56 468.12,96.26 467.62,96.07 467.13,96.57 466.63,96.08 466.13,96.02 465.64,96.19 465.14,96.35 464.65,96.09 464.15,96.51 463.65,96.52 463.16,95.94 462.66,96.03 462.16,95.99 461.67,96.11 461.17,96.05 460.67,96.35 460.18,96.24 459.68,96.27" fill="#e22830"/>
<polygon points="468.16,91 468.61,89.5 468.66,86 468.76,64.35 468.91,33.28 469.16,31.78 469.56,31.78 469.81,33.28 469.96,64.35 470.08,86 470.16,89.5 470.66,91" fill="#e22830"/>
<polygon points="468.61,91 468.86,88 468.94,64.35 469.26,56.43 469.46,56.43 469.81,64.35 469.91,88 470.21,91" fill="#a21c22" fill-opacity="0.8"/>
<polygon points="479.34,90.28 479.83,90.41 480.33,90.73 480.83,90.63 481.32,90.33 481.82,90.71 482.32,90.36 482.81,90.37 483.31,90.63 483.8,90.28 484.3,90.69 484.8,90.4 485.29,90.49 485.79,90.73 486.29,90.57 486.78,90.52 487.28,90.57 487.78,90.91 488.27,90.21 488.77,90.23 489.26,90.97 489.76,90.24 490.26,90.57 490.75,90.9 491.25,90.34 491.75,90.65 492.24,90.43 492.74,90.34 493.23,90.57 493.73,90.96 494.23,90.34 494.72,90.44 495.22,90.27 495.72,90.78 496.21,90.37 496.71,90.3 497.21,90.72 497.7,90.67 498.2,90.73 498.69,91 498.69,96.42 498.2,95.85 497.7,96.54 497.21,96.39 496.71,96.46 496.21,96.52 495.72,96.24 495.22,96.26 494.72,96.11 494.23,96.28 493.73,96.31 493.23,96.53 492.74,96.39 492.24,96.22 491.75,95.87 491.25,96.53 490.75,96.3 490.26,96.45 489.76,96.41 489.26,96 488.77,96.2 488.27,96.57 487.78,95.87 487.28,96.35 486.78,96.22 486.29,96.01 485.79,96.52 485.29,96.25 484.8,96.14 484.3,96.28 483.8,96.18 483.31,96.4 482.81,96.09 482.32,96.03 481.82,96.25 481.32,96.14 480.83,96.41 480.33,95.89 479.83,96.07 479.34,95.99" fill="#e4262c"/>
<polygon points="487.82,91 488.27,89.5 488.32,86 488.42,62.97 488.57,30.21 488.82,28.71 489.22,28.71 489.47,30.21 489.62,62.97 489.74,86 489.82,89.5 490.32,91" fill="#e4262c"/>
<polygon points="488.27,91 488.52,88 488.6,62.97 488.92,54.74 489.12,54.74 489.47,62.97 489.57,88 489.87,91" fill="#a41b1f" fill-opacity="0.8"/>
<polygon points="498.99,90.63 499.49,90.4 499.99,90.76 500.48,90.63 500.98,90.34 501.48,90.97 501.97,90.77 502.47,90.61 502.96,90.32 503.46,90.78 503.96,90.34 504.45,90.8 504.95,90.76 505.45,90.56 505.94,90.48 506.44,90.3 506.93,90.3 507.43,90.8 507.93,90.4 508.42,90.49 508.92,90.69 509.42,90.38 509.91,90.28 510.41,90.62 510.91,90.27 511.4,90.9 511.9,90.87 512.39,90.39 512.89,90.76 513.39,90.53 513.88,90.6 514.38,90.88 514.88,90.4 515.37,90.41 515.87,90.88 516.36,90.79 516.86,90.36 517.36,90.27 517.85,90.3 518.35,90.6 518.35,95.85 517.85,95.9 517.36,96.48 516.86,95.98 516.36,96.11 515.87,96.42 515.37,96.36 514.88,96.26 514.38,96.04 513.88,95.82 513.39,96.56 512.89,96.01 512.39,95.94 511.9,95.99 511.4,95.81 510.91,96.46 510.41,96.05 509.91,96.43 509.42,96.21 508.92,96.28 508.42,96.58 507.93,96.22 507.43,96.03 506.93,96.44 506.44,96.16 505.94,96.52 505.45,96.31 504.95,96.51 504.45,96.58 503.96,96.32 503.46,96.36 502.96,96.18 502.47,95.85 501.97,96.1 501.48,95.93 500.98,95.98 500.48,96.2 499.99,95.94 499.49,96.16 498.99,96.09" fill="#e62428"/>
<polygon points="507.47,91 507.92,89.5 507.97,86 508.07,64.96 508.22,34.64 508.47,33.14 508.87,33.14 509.12,34.64 509.27,64.96 509.39,86 509.47,89.5 509.97,91" fill="#e62428"/>
<polygon points="507.92,91 508.17,88 508.25,64.96 508.57,57.18 508.77,57.18 509.12,64.96 509.22,88 509.52,91" fill="#a5191c" fill-opacity="0.8"/>
<line x1="46.46" y1="18.65" x2="46.46" y2="100.5" stroke="#E1E1E4" stroke-width="0.8" stroke-dasharray="2.5 2"/>
<line x1="66.11" y1="18.65" x2="66.11" y2="100.5" stroke="#E1E1E4" stroke-width="0.8" stroke-dasharray="2.5 2"/>
<line x1="85.77" y1="18.65" x2="85.77" y2="100.5" stroke="#E1E1E4" stroke-width="0.8" stroke-dasharray="2.5 2"/>
<line x1="105.42" y1="18.65" x2="105.42" y2="100.5" stroke="#E1E1E4" stroke-width="0.8" stroke-dasharray="2.5 2"/>
<line x1="125.08" y1="18.65" x2="125.08" y2="100.5" stroke="#E1E1E4" stroke-width="0.8" stroke-dasharray="2.5 2"/>
<line x1="144.74" y1="18.65" x2="144.74" y2="100.5" stroke="#E1E1E4" stroke-width="0.8" stroke-dasharray="2.5 2"/>
<line x1="164.39" y1="18.65" x2="164.39" y2="100.5" stroke="#E1E1E4" stroke-width="0.8" stroke-dasharray="2.5 2"/>
<line x1="184.05" y1="18.65" x2="184.05" y2="100.5" stroke="#E1E1E4" stroke-width="0.8" stroke-dasharray="2.5 2"/>
<line x1="203.7" y1="18.65" x2="203.7" y2="100.5" stroke="#E1E1E4" stroke-width="0.8" stroke-dasharray="2.5 2"/>
<line x1="223.36" y1="18.65" x2="223.36" y2="100.5" stroke="#E1E1E4" stroke-width="0.8" stroke-dasharray="2.5 2"/>
<line x1="243.02" y1="18.65" x2="243.02" y2="100.5" stroke="#E1E1E4" stroke-width="0.8" stroke-dasharray="2.5 2"/>
<line x1="262.67" y1="18.65" x2="262.67" y2="100.5" stroke="#E1E1E4" stroke-width="0.8" stroke-dasharray="2.5 2"/>
<line x1="282.33" y1="18.65" x2="282.33" y2="100.5" stroke="#E1E1E4" stroke-width="0.8" stroke-dasharray="2.5 2"/>
<line x1="301.98" y1="18.65" x2="301.98" y2="100.5" stroke="#E1E1E4" stroke-width="0.8" stroke-dasharray="2.5 2"/>
<line x1="321.64" y1="18.65" x2="321.64" y2="100.5" stroke="#E1E1E4" stroke-width="0.8" stroke-dasharray="2.5 2"/>
<line x1="341.3" y1="18.65" x2="341.3" y2="100.5" stroke="#E1E1E4" stroke-width="0.8" stroke-dasharray="2.5 2"/>
<line x1="360.95" y1="18.65" x2="360.95" y2="100.5" stroke="#E1E1E4" stroke-width="0.8" stroke-dasharray="2.5 2"/>
<line x1="380.61" y1="18.65" x2="380.61" y2="100.5" stroke="#E1E1E4" stroke-width="0.8" stroke-dasharray="2.5 2"/>
<line x1="400.26" y1="18.65" x2="400.26" y2="100.5" stroke="#E1E1E4" stroke-width="0.8" stroke-dasharray="2.5 2"/>
<line x1="419.92" y1="18.65" x2="419.92" y2="100.5" stroke="#E1E1E4" stroke-width="0.8" stroke-dasharray="2.5 2"/>
<line x1="439.58" y1="18.65" x2="439.58" y2="100.5" stroke="#E1E1E4" stroke-width="0.8" stroke-dasharray="2.5 2"/>
<line x1="459.23" y1="18.65" x2="459.23" y2="100.5" stroke="#E1E1E4" stroke-width="0.8" stroke-dasharray="2.5 2"/>
<line x1="478.89" y1="18.65" x2="478.89" y2="100.5" stroke="#E1E1E4" stroke-width="0.8" stroke-dasharray="2.5 2"/>
<line x1="498.54" y1="18.65" x2="498.54" y2="100.5" stroke="#E1E1E4" stroke-width="0.8" stroke-dasharray="2.5 2"/>
<path d="M27.1,18.65V100.5H518.5V18.65" fill="none" stroke="#454545" stroke-width="0.95"/>
<line x1="26.700000000000003" y1="18.65" x2="518.9" y2="18.65" stroke="#F5BE9E" stroke-width="0.8"/>
<line x1="36.93" y1="18.65" x2="36.93" y2="20.849999999999998" stroke="#F5BE9E" stroke-width="0.7"/>
<line x1="56.58" y1="18.65" x2="56.58" y2="20.849999999999998" stroke="#F5BE9E" stroke-width="0.7"/>
<line x1="76.24" y1="18.65" x2="76.24" y2="20.849999999999998" stroke="#F5BE9E" stroke-width="0.7"/>
<line x1="95.9" y1="18.65" x2="95.9" y2="20.849999999999998" stroke="#F5BE9E" stroke-width="0.7"/>
<line x1="115.55" y1="18.65" x2="115.55" y2="20.849999999999998" stroke="#F5BE9E" stroke-width="0.7"/>
<line x1="135.21" y1="18.65" x2="135.21" y2="20.849999999999998" stroke="#F5BE9E" stroke-width="0.7"/>
<line x1="154.86" y1="18.65" x2="154.86" y2="20.849999999999998" stroke="#F5BE9E" stroke-width="0.7"/>
<line x1="174.52" y1="18.65" x2="174.52" y2="20.849999999999998" stroke="#F5BE9E" stroke-width="0.7"/>
<line x1="194.18" y1="18.65" x2="194.18" y2="20.849999999999998" stroke="#F5BE9E" stroke-width="0.7"/>
<line x1="213.83" y1="18.65" x2="213.83" y2="20.849999999999998" stroke="#F5BE9E" stroke-width="0.7"/>
<line x1="233.49" y1="18.65" x2="233.49" y2="20.849999999999998" stroke="#F5BE9E" stroke-width="0.7"/>
<line x1="253.14" y1="18.65" x2="253.14" y2="20.849999999999998" stroke="#F5BE9E" stroke-width="0.7"/>
<line x1="272.8" y1="18.65" x2="272.8" y2="20.849999999999998" stroke="#F5BE9E" stroke-width="0.7"/>
<line x1="292.46" y1="18.65" x2="292.46" y2="20.849999999999998" stroke="#F5BE9E" stroke-width="0.7"/>
<line x1="312.11" y1="18.65" x2="312.11" y2="20.849999999999998" stroke="#F5BE9E" stroke-width="0.7"/>
<line x1="331.77" y1="18.65" x2="331.77" y2="20.849999999999998" stroke="#F5BE9E" stroke-width="0.7"/>
<line x1="351.42" y1="18.65" x2="351.42" y2="20.849999999999998" stroke="#F5BE9E" stroke-width="0.7"/>
<line x1="371.08" y1="18.65" x2="371.08" y2="20.849999999999998" stroke="#F5BE9E" stroke-width="0.7"/>
<line x1="390.74" y1="18.65" x2="390.74" y2="20.849999999999998" stroke="#F5BE9E" stroke-width="0.7"/>
<line x1="410.39" y1="18.65" x2="410.39" y2="20.849999999999998" stroke="#F5BE9E" stroke-width="0.7"/>
<line x1="430.05" y1="18.65" x2="430.05" y2="20.849999999999998" stroke="#F5BE9E" stroke-width="0.7"/>
<line x1="449.7" y1="18.65" x2="449.7" y2="20.849999999999998" stroke="#F5BE9E" stroke-width="0.7"/>
<line x1="469.36" y1="18.65" x2="469.36" y2="20.849999999999998" stroke="#F5BE9E" stroke-width="0.7"/>
<line x1="489.02" y1="18.65" x2="489.02" y2="20.849999999999998" stroke="#F5BE9E" stroke-width="0.7"/>
<line x1="508.67" y1="18.65" x2="508.67" y2="20.849999999999998" stroke="#F5BE9E" stroke-width="0.7"/>
<g fill="#EE843C" stroke="#EE843C" stroke-width="0.08" font-size="7.3" text-anchor="middle">
<text x="36.93" y="15.1">1528</text>
<text x="76.24" y="15.1">1530</text>
<text x="115.55" y="15.1">1532</text>
<text x="154.86" y="15.1">1534</text>
<text x="194.18" y="15.1">1536</text>
<text x="233.49" y="15.1">1538</text>
<text x="272.8" y="15.1">1540</text>
<text x="312.11" y="15.1">1542</text>
<text x="351.42" y="15.1">1544</text>
<text x="390.74" y="15.1">1546</text>
<text x="430.05" y="15.1">1548</text>
<text x="469.36" y="15.1">1550</text>
<text x="508.67" y="15.1">1552</text>
</g>
<text x="273" y="4.9" fill="#EE843C" stroke="#EE843C" stroke-width="0.08" font-size="7.7" text-anchor="middle">Wavelength (nm)</text>
<line x1="27.1" y1="93.5" x2="31.900000000000002" y2="93.5" stroke="#454545" stroke-width="0.8"/>
<line x1="518.5" y1="93.5" x2="513.7" y2="93.5" stroke="#454545" stroke-width="0.8"/>
<text x="24.2" y="96.2" fill="#262626" stroke="#262626" stroke-width="0.2" font-size="7.3" text-anchor="end">0</text>
<line x1="27.1" y1="59.4" x2="31.900000000000002" y2="59.4" stroke="#454545" stroke-width="0.8"/>
<line x1="518.5" y1="59.4" x2="513.7" y2="59.4" stroke="#454545" stroke-width="0.8"/>
<text x="24.2" y="62.1" fill="#262626" stroke="#262626" stroke-width="0.2" font-size="7.3" text-anchor="end">0.5</text>
<line x1="27.1" y1="25.3" x2="31.900000000000002" y2="25.3" stroke="#454545" stroke-width="0.8"/>
<line x1="518.5" y1="25.3" x2="513.7" y2="25.3" stroke="#454545" stroke-width="0.8"/>
<text x="24.2" y="28" fill="#262626" stroke="#262626" stroke-width="0.2" font-size="7.3" text-anchor="end">1</text>
<rect x="45.26" y="99.5" width="1.8" height="2" fill="#fff"/>
<text transform="translate(46.16,102.5) skewX(-8)" fill="#333" stroke="#333" stroke-width="0.25" font-size="6" text-anchor="middle">//</text>
<rect x="64.91" y="99.5" width="1.8" height="2" fill="#fff"/>
<text transform="translate(65.81,102.5) skewX(-8)" fill="#333" stroke="#333" stroke-width="0.25" font-size="6" text-anchor="middle">//</text>
<rect x="84.57" y="99.5" width="1.8" height="2" fill="#fff"/>
<text transform="translate(85.47,102.5) skewX(-8)" fill="#333" stroke="#333" stroke-width="0.25" font-size="6" text-anchor="middle">//</text>
<rect x="104.22" y="99.5" width="1.8" height="2" fill="#fff"/>
<text transform="translate(105.12,102.5) skewX(-8)" fill="#333" stroke="#333" stroke-width="0.25" font-size="6" text-anchor="middle">//</text>
<rect x="123.88" y="99.5" width="1.8" height="2" fill="#fff"/>
<text transform="translate(124.78,102.5) skewX(-8)" fill="#333" stroke="#333" stroke-width="0.25" font-size="6" text-anchor="middle">//</text>
<rect x="143.54" y="99.5" width="1.8" height="2" fill="#fff"/>
<text transform="translate(144.44,102.5) skewX(-8)" fill="#333" stroke="#333" stroke-width="0.25" font-size="6" text-anchor="middle">//</text>
<rect x="163.19" y="99.5" width="1.8" height="2" fill="#fff"/>
<text transform="translate(164.09,102.5) skewX(-8)" fill="#333" stroke="#333" stroke-width="0.25" font-size="6" text-anchor="middle">//</text>
<rect x="182.85" y="99.5" width="1.8" height="2" fill="#fff"/>
<text transform="translate(183.75,102.5) skewX(-8)" fill="#333" stroke="#333" stroke-width="0.25" font-size="6" text-anchor="middle">//</text>
<rect x="202.5" y="99.5" width="1.8" height="2" fill="#fff"/>
<text transform="translate(203.4,102.5) skewX(-8)" fill="#333" stroke="#333" stroke-width="0.25" font-size="6" text-anchor="middle">//</text>
<rect x="222.16" y="99.5" width="1.8" height="2" fill="#fff"/>
<text transform="translate(223.06,102.5) skewX(-8)" fill="#333" stroke="#333" stroke-width="0.25" font-size="6" text-anchor="middle">//</text>
<rect x="241.82" y="99.5" width="1.8" height="2" fill="#fff"/>
<text transform="translate(242.72,102.5) skewX(-8)" fill="#333" stroke="#333" stroke-width="0.25" font-size="6" text-anchor="middle">//</text>
<rect x="261.47" y="99.5" width="1.8" height="2" fill="#fff"/>
<text transform="translate(262.37,102.5) skewX(-8)" fill="#333" stroke="#333" stroke-width="0.25" font-size="6" text-anchor="middle">//</text>
<rect x="281.13" y="99.5" width="1.8" height="2" fill="#fff"/>
<text transform="translate(282.03,102.5) skewX(-8)" fill="#333" stroke="#333" stroke-width="0.25" font-size="6" text-anchor="middle">//</text>
<rect x="300.78" y="99.5" width="1.8" height="2" fill="#fff"/>
<text transform="translate(301.68,102.5) skewX(-8)" fill="#333" stroke="#333" stroke-width="0.25" font-size="6" text-anchor="middle">//</text>
<rect x="320.44" y="99.5" width="1.8" height="2" fill="#fff"/>
<text transform="translate(321.34,102.5) skewX(-8)" fill="#333" stroke="#333" stroke-width="0.25" font-size="6" text-anchor="middle">//</text>
<rect x="340.1" y="99.5" width="1.8" height="2" fill="#fff"/>
<text transform="translate(341,102.5) skewX(-8)" fill="#333" stroke="#333" stroke-width="0.25" font-size="6" text-anchor="middle">//</text>
<rect x="359.75" y="99.5" width="1.8" height="2" fill="#fff"/>
<text transform="translate(360.65,102.5) skewX(-8)" fill="#333" stroke="#333" stroke-width="0.25" font-size="6" text-anchor="middle">//</text>
<rect x="379.41" y="99.5" width="1.8" height="2" fill="#fff"/>
<text transform="translate(380.31,102.5) skewX(-8)" fill="#333" stroke="#333" stroke-width="0.25" font-size="6" text-anchor="middle">//</text>
<rect x="399.06" y="99.5" width="1.8" height="2" fill="#fff"/>
<text transform="translate(399.96,102.5) skewX(-8)" fill="#333" stroke="#333" stroke-width="0.25" font-size="6" text-anchor="middle">//</text>
<rect x="418.72" y="99.5" width="1.8" height="2" fill="#fff"/>
<text transform="translate(419.62,102.5) skewX(-8)" fill="#333" stroke="#333" stroke-width="0.25" font-size="6" text-anchor="middle">//</text>
<rect x="438.38" y="99.5" width="1.8" height="2" fill="#fff"/>
<text transform="translate(439.28,102.5) skewX(-8)" fill="#333" stroke="#333" stroke-width="0.25" font-size="6" text-anchor="middle">//</text>
<rect x="458.03" y="99.5" width="1.8" height="2" fill="#fff"/>
<text transform="translate(458.93,102.5) skewX(-8)" fill="#333" stroke="#333" stroke-width="0.25" font-size="6" text-anchor="middle">//</text>
<rect x="477.69" y="99.5" width="1.8" height="2" fill="#fff"/>
<text transform="translate(478.59,102.5) skewX(-8)" fill="#333" stroke="#333" stroke-width="0.25" font-size="6" text-anchor="middle">//</text>
<rect x="497.34" y="99.5" width="1.8" height="2" fill="#fff"/>
<text transform="translate(498.24,102.5) skewX(-8)" fill="#333" stroke="#333" stroke-width="0.25" font-size="6" text-anchor="middle">//</text>
<text x="273.3" y="112" fill="#262626" stroke="#262626" stroke-width="0.2" font-size="7.7" text-anchor="middle">Time (1 μs/div)</text>
<text transform="translate(10.3,60.6) rotate(-90)" fill="#262626" stroke="#262626" stroke-width="0.2" font-size="7.7" text-anchor="middle">Intensity (a.u.)</text>
<text x="0.8" y="10.3" fill="#262626" stroke="#262626" stroke-width="0.3" font-size="9.4">(a)</text>
</g>
<g id="panel-b">
<line x1="46.46" y1="118.8" x2="46.46" y2="199.8" stroke="#E1E1E4" stroke-width="0.8" stroke-dasharray="2.5 2"/>
<line x1="66.11" y1="118.8" x2="66.11" y2="199.8" stroke="#E1E1E4" stroke-width="0.8" stroke-dasharray="2.5 2"/>
<line x1="85.77" y1="118.8" x2="85.77" y2="199.8" stroke="#E1E1E4" stroke-width="0.8" stroke-dasharray="2.5 2"/>
<line x1="105.42" y1="118.8" x2="105.42" y2="199.8" stroke="#E1E1E4" stroke-width="0.8" stroke-dasharray="2.5 2"/>
<line x1="125.08" y1="118.8" x2="125.08" y2="199.8" stroke="#E1E1E4" stroke-width="0.8" stroke-dasharray="2.5 2"/>
<line x1="144.74" y1="118.8" x2="144.74" y2="199.8" stroke="#E1E1E4" stroke-width="0.8" stroke-dasharray="2.5 2"/>
<line x1="164.39" y1="118.8" x2="164.39" y2="199.8" stroke="#E1E1E4" stroke-width="0.8" stroke-dasharray="2.5 2"/>
<line x1="184.05" y1="118.8" x2="184.05" y2="199.8" stroke="#E1E1E4" stroke-width="0.8" stroke-dasharray="2.5 2"/>
<line x1="203.7" y1="118.8" x2="203.7" y2="199.8" stroke="#E1E1E4" stroke-width="0.8" stroke-dasharray="2.5 2"/>
<line x1="223.36" y1="118.8" x2="223.36" y2="199.8" stroke="#E1E1E4" stroke-width="0.8" stroke-dasharray="2.5 2"/>
<line x1="243.02" y1="118.8" x2="243.02" y2="199.8" stroke="#E1E1E4" stroke-width="0.8" stroke-dasharray="2.5 2"/>
<line x1="262.67" y1="118.8" x2="262.67" y2="199.8" stroke="#E1E1E4" stroke-width="0.8" stroke-dasharray="2.5 2"/>
<line x1="282.33" y1="118.8" x2="282.33" y2="199.8" stroke="#E1E1E4" stroke-width="0.8" stroke-dasharray="2.5 2"/>
<line x1="301.98" y1="118.8" x2="301.98" y2="199.8" stroke="#E1E1E4" stroke-width="0.8" stroke-dasharray="2.5 2"/>
<line x1="321.64" y1="118.8" x2="321.64" y2="199.8" stroke="#E1E1E4" stroke-width="0.8" stroke-dasharray="2.5 2"/>
<line x1="341.3" y1="118.8" x2="341.3" y2="199.8" stroke="#E1E1E4" stroke-width="0.8" stroke-dasharray="2.5 2"/>
<line x1="360.95" y1="118.8" x2="360.95" y2="199.8" stroke="#E1E1E4" stroke-width="0.8" stroke-dasharray="2.5 2"/>
<line x1="380.61" y1="118.8" x2="380.61" y2="199.8" stroke="#E1E1E4" stroke-width="0.8" stroke-dasharray="2.5 2"/>
<line x1="400.26" y1="118.8" x2="400.26" y2="199.8" stroke="#E1E1E4" stroke-width="0.8" stroke-dasharray="2.5 2"/>
<line x1="419.92" y1="118.8" x2="419.92" y2="199.8" stroke="#E1E1E4" stroke-width="0.8" stroke-dasharray="2.5 2"/>
<line x1="439.58" y1="118.8" x2="439.58" y2="199.8" stroke="#E1E1E4" stroke-width="0.8" stroke-dasharray="2.5 2"/>
<line x1="459.23" y1="118.8" x2="459.23" y2="199.8" stroke="#E1E1E4" stroke-width="0.8" stroke-dasharray="2.5 2"/>
<line x1="478.89" y1="118.8" x2="478.89" y2="199.8" stroke="#E1E1E4" stroke-width="0.8" stroke-dasharray="2.5 2"/>
<line x1="498.54" y1="118.8" x2="498.54" y2="199.8" stroke="#E1E1E4" stroke-width="0.8" stroke-dasharray="2.5 2"/>
<polygon points="35.33,194 36.08,192.17 36.38,189.1 36.48,180.91 36.55,169.12 36.78,168.12 37.08,168.12 37.31,169.12 37.38,180.91 37.48,189.1 37.78,192.17 38.53,194" fill="#109096" fill-opacity="0.7"/>
<polyline points="27.1,195.1 27.58,194.96 28.06,192.59 28.54,192.1 29.02,192.7 29.5,192.85 29.98,191.66 30.46,193.43 30.94,191.99 31.41,192.07 31.89,194.41 32.37,192.65 32.85,193.32 33.33,194.09 33.81,194.29 34.29,193.03 34.77,193.45 35.25,192.49 35.73,195.32 36.21,194.11 36.69,192.19 37.17,193.4 37.65,194.18 38.13,193.93 38.61,195.41 39.09,194.91 39.56,192.81 40.04,193.3 40.52,191.99 41,193.67 41.48,193.57 41.96,196.37 42.44,193.51 42.92,191.1 43.4,192.66 43.88,193.52 44.36,192.02 44.84,192.45 45.32,193 45.8,193.78 46.28,193.22 46.76,192.42" fill="none" stroke="#0d7a7f" stroke-width="0.75" stroke-linejoin="round"/>
<polygon points="54.98,194 55.73,192.17 56.03,189.1 56.13,180.91 56.2,169.12 56.43,168.12 56.73,168.12 56.96,169.12 57.03,180.91 57.13,189.1 57.43,192.17 58.18,194" fill="#1b98cc" fill-opacity="0.7"/>
<polyline points="46.76,194.27 47.24,192.81 47.71,192.85 48.19,191.88 48.67,192.54 49.15,194.12 49.63,191.62 50.11,193.32 50.59,194.19 51.07,192.99 51.55,193.66 52.03,192.17 52.51,194.84 52.99,194.61 53.47,193.66 53.95,191.47 54.43,192.25 54.91,194.47 55.39,195.28 55.86,193.73 56.34,194.77 56.82,192.73 57.3,193.19 57.78,193.4 58.26,193.87 58.74,191.72 59.22,194.43 59.7,194.85 60.18,192.14 60.66,191.91 61.14,193.79 61.62,192.68 62.1,190.79 62.58,194.29 63.06,193.57 63.54,192.88 64.01,195.72 64.49,193.55 64.97,192.57 65.45,193.51 65.93,192.26 66.41,192.56" fill="none" stroke="#1681ad" stroke-width="0.75" stroke-linejoin="round"/>
<polygon points="74.64,194 75.39,192.12 75.69,188.96 75.79,180.53 75.86,168.37 76.09,167.37 76.39,167.37 76.62,168.37 76.69,180.53 76.79,188.96 77.09,192.12 77.84,194" fill="#22a0dc" fill-opacity="0.7"/>
<polyline points="66.41,193.82 66.89,192.79 67.37,192.9 67.85,195.24 68.33,194.35 68.81,194.28 69.29,193.98 69.77,193.93 70.25,195 70.73,193.38 71.21,195.44 71.69,192.35 72.16,193.12 72.64,191.88 73.12,193.02 73.6,193.97 74.08,195 74.56,192.67 75.04,193.41 75.52,193 76,192.59 76.48,192.09 76.96,193.47 77.44,191.49 77.92,193.52 78.4,193.42 78.88,192.68 79.36,192.29 79.84,191.88 80.32,195.46 80.79,191.92 81.27,195.11 81.75,194.06 82.23,193 82.71,192.13 83.19,194.55 83.67,195.3 84.15,192.37 84.63,193.07 85.11,194.56 85.59,193.77 86.07,195.6" fill="none" stroke="#1c88bb" stroke-width="0.75" stroke-linejoin="round"/>
<polygon points="94.3,194 95.05,192.21 95.35,189.23 95.45,181.29 95.52,169.87 95.75,168.87 96.05,168.87 96.28,169.87 96.35,181.29 96.45,189.23 96.75,192.21 97.5,194" fill="#2296d4" fill-opacity="0.7"/>
<polyline points="86.07,192.77 86.55,194 87.03,192.02 87.51,195.71 87.99,192.6 88.47,190.97 88.94,193.26 89.42,193.25 89.9,195.51 90.38,193.03 90.86,193.39 91.34,194.05 91.82,195.14 92.3,193.33 92.78,194.54 93.26,193.97 93.74,193.07 94.22,193.49 94.7,193.43 95.18,192.39 95.66,194.74 96.14,191.88 96.62,194.69 97.09,194.45 97.57,193.3 98.05,192.56 98.53,193.15 99.01,193.92 99.49,194.22 99.97,193.72 100.45,194.49 100.93,192.79 101.41,193.66 101.89,191.67 102.37,194.24 102.85,193.57 103.33,192.94 103.81,194.68 104.29,194.16 104.77,190.3 105.24,193.44 105.72,191.8" fill="none" stroke="#1c7fb4" stroke-width="0.75" stroke-linejoin="round"/>
<polygon points="113.95,194 114.7,191.93 115,188.39 115.1,178.96 115.17,165.22 115.4,164.22 115.7,164.22 115.93,165.22 116,178.96 116.1,188.39 116.4,191.93 117.15,194" fill="#2888d0" fill-opacity="0.7"/>
<polyline points="105.72,194.57 106.2,196.14 106.68,192.83 107.16,193.48 107.64,193.12 108.12,193.79 108.6,194.11 109.08,194.82 109.56,192.31 110.04,195.13 110.52,192.38 111,193.7 111.48,194.67 111.96,194.18 112.44,192.37 112.92,192.63 113.39,192.89 113.87,193.34 114.35,194.66 114.83,191.98 115.31,193.91 115.79,194.07 116.27,194.01 116.75,193.91 117.23,195.07 117.71,193.94 118.19,194.34 118.67,194.02 119.15,195.37 119.63,191.31 120.11,194.81 120.59,193.11 121.07,193.09 121.54,192.33 122.02,191.34 122.5,192.98 122.98,192.64 123.46,193.94 123.94,191.78 124.42,194.97 124.9,193.7 125.38,193.13" fill="none" stroke="#2273b0" stroke-width="0.75" stroke-linejoin="round"/>
<polygon points="133.61,194 134.36,191.54 134.66,187.22 134.76,175.71 134.83,158.72 135.06,157.72 135.36,157.72 135.59,158.72 135.66,175.71 135.76,187.22 136.06,191.54 136.81,194" fill="#2c72c8" fill-opacity="0.7"/>
<polyline points="125.38,192.62 125.86,192.53 126.34,192.16 126.82,192.8 127.3,193.41 127.78,193.2 128.26,191.84 128.74,193.11 129.22,192.42 129.69,193.58 130.17,195.45 130.65,194.09 131.13,193.06 131.61,191.61 132.09,191.84 132.57,191.54 133.05,194.2 133.53,192.56 134.01,193.47 134.49,192.72 134.97,193.5 135.45,194.94 135.93,192.65 136.41,193.02 136.89,192.51 137.37,194.36 137.84,192.27 138.32,192.15 138.8,191.87 139.28,191.85 139.76,193.92 140.24,196.23 140.72,192.31 141.2,194.45 141.68,193.68 142.16,192.19 142.64,193.1 143.12,193.14 143.6,192.64 144.08,195.52 144.56,191.3 145.04,193.82" fill="none" stroke="#2560aa" stroke-width="0.75" stroke-linejoin="round"/>
<polygon points="153.26,194 154.01,191.18 154.31,186.14 154.41,172.7 154.48,152.7 154.71,151.7 155.01,151.7 155.24,152.7 155.31,172.7 155.41,186.14 155.71,191.18 156.46,194" fill="#2d5ebc" fill-opacity="0.7"/>
<polyline points="145.04,193.76 145.52,192.76 145.99,193.56 146.47,194.37 146.95,193.57 147.43,193.86 147.91,194.16 148.39,191.16 148.87,195.03 149.35,195.91 149.83,194.48 150.31,194.52 150.79,191.85 151.27,193.27 151.75,192.51 152.23,192.75 152.71,194.46 153.19,192.52 153.67,193.26 154.14,191.3 154.62,193.23 155.1,193.5 155.58,192.62 156.06,192.61 156.54,195.48 157.02,192.07 157.5,192.24 157.98,192.51 158.46,194.72 158.94,195.71 159.42,193.77 159.9,192.61 160.38,192.93 160.86,194.57 161.34,192.4 161.82,195 162.29,194.96 162.77,193.48 163.25,194.11 163.73,194.22 164.21,195.11 164.69,192.24" fill="none" stroke="#264f9f" stroke-width="0.75" stroke-linejoin="round"/>
<polygon points="172.92,194 173.67,190.91 173.97,185.33 174.07,170.44 174.14,148.19 174.37,147.19 174.67,147.19 174.9,148.19 174.97,170.44 175.07,185.33 175.37,190.91 176.12,194" fill="#2c52b0" fill-opacity="0.7"/>
<polyline points="164.69,194.7 165.17,192.99 165.65,192.56 166.13,193.51 166.61,193.16 167.09,192.31 167.57,191.64 168.05,192.36 168.53,195 169.01,195.56 169.49,194.12 169.97,194.7 170.44,192.83 170.92,193.32 171.4,193.71 171.88,192.21 172.36,192.31 172.84,193.51 173.32,193.05 173.8,192.23 174.28,193.83 174.76,193.11 175.24,194.52 175.72,193.39 176.2,193.07 176.68,193.54 177.16,193.21 177.64,192.67 178.12,192.96 178.6,194.22 179.07,194.11 179.55,194.81 180.03,191.54 180.51,192.97 180.99,192.94 181.47,193.59 181.95,192.9 182.43,192.84 182.91,194.26 183.39,193.6 183.87,192.12 184.35,194.87" fill="none" stroke="#254595" stroke-width="0.75" stroke-linejoin="round"/>
<polygon points="192.58,194 193.33,190.68 193.63,184.63 193.73,168.49 193.8,144.29 194.03,143.29 194.33,143.29 194.56,144.29 194.63,168.49 194.73,184.63 195.03,190.68 195.78,194" fill="#2c4aa6" fill-opacity="0.7"/>
<polyline points="184.35,194.5 184.83,192.77 185.31,194.31 185.79,192.59 186.27,194.64 186.75,193.16 187.22,192.52 187.7,192.99 188.18,192.56 188.66,193.61 189.14,193.59 189.62,193.44 190.1,192.79 190.58,189.37 191.06,193.5 191.54,191.31 192.02,193.67 192.5,194.64 192.98,193.7 193.46,192.97 193.94,193.2 194.42,193.25 194.9,192.8 195.37,192.76 195.85,192.38 196.33,194.71 196.81,193.38 197.29,194.45 197.77,193.12 198.25,193.48 198.73,193.21 199.21,193.91 199.69,194.31 200.17,193.66 200.65,192.66 201.13,192.54 201.61,195.23 202.09,193.09 202.57,193.08 203.05,195.01 203.52,194.6 204,193.99" fill="none" stroke="#253e8d" stroke-width="0.75" stroke-linejoin="round"/>
<polygon points="212.23,194 212.98,190.29 213.28,183.46 213.38,165.25 213.45,137.79 213.68,136.79 213.98,136.79 214.21,137.79 214.28,165.25 214.38,183.46 214.68,190.29 215.43,194" fill="#2e44a0" fill-opacity="0.7"/>
<polyline points="204,192.96 204.48,195.99 204.96,193.83 205.44,194 205.92,193.21 206.4,191.84 206.88,191.93 207.36,193.85 207.84,193.83 208.32,193.14 208.8,192.11 209.28,191.81 209.76,193.04 210.24,191.8 210.72,194.39 211.2,194.67 211.67,196.51 212.15,194.37 212.63,192.75 213.11,192.44 213.59,189.6 214.07,192.75 214.55,193.21 215.03,194.46 215.51,194.07 215.99,194.05 216.47,193.63 216.95,194.13 217.43,194.99 217.91,192.23 218.39,192.9 218.87,191.87 219.35,195.18 219.82,194.83 220.3,194.23 220.78,192.08 221.26,193.59 221.74,193.14 222.22,193.49 222.7,193.19 223.18,193.97 223.66,192.97" fill="none" stroke="#273988" stroke-width="0.75" stroke-linejoin="round"/>
<polygon points="231.89,194 232.64,190.26 232.94,183.37 233.04,165.01 233.11,137.31 233.34,136.31 233.64,136.31 233.87,137.31 233.94,165.01 234.04,183.37 234.34,190.26 235.09,194" fill="#4442a8" fill-opacity="0.7"/>
<polyline points="223.66,194.34 224.14,193.67 224.62,193.08 225.1,193.28 225.58,192.92 226.06,194.3 226.54,193.1 227.02,193.72 227.5,192.97 227.97,191.77 228.45,194.4 228.93,192.24 229.41,194.15 229.89,193.86 230.37,191.58 230.85,192.36 231.33,192.83 231.81,192.5 232.29,192.1 232.77,194.21 233.25,193.14 233.73,193.82 234.21,192.93 234.69,193.74 235.17,192.57 235.65,193.37 236.12,194.04 236.6,193.45 237.08,192.9 237.56,192.2 238.04,193.58 238.52,193.78 239,193.12 239.48,192.55 239.96,194 240.44,196.13 240.92,193.07 241.4,193.77 241.88,193.82 242.36,190.58 242.84,193.54 243.32,192.62" fill="none" stroke="#39388e" stroke-width="0.75" stroke-linejoin="round"/>
<polygon points="251.54,194 252.29,189.82 252.59,182.05 252.69,161.35 252.76,129.99 252.99,128.99 253.29,128.99 253.52,129.99 253.59,161.35 253.69,182.05 253.99,189.82 254.74,194" fill="#5a46ac" fill-opacity="0.7"/>
<polyline points="243.32,194.92 243.8,193.12 244.27,192.54 244.75,193.16 245.23,193.58 245.71,192.78 246.19,193.34 246.67,191.91 247.15,193.15 247.63,194.25 248.11,195.57 248.59,194.18 249.07,193.7 249.55,194.7 250.03,194.52 250.51,195.23 250.99,194.59 251.47,193.27 251.95,193.68 252.42,193.6 252.9,193.73 253.38,193.62 253.86,192.54 254.34,191.09 254.82,192.66 255.3,191.17 255.78,193.47 256.26,193.4 256.74,191.56 257.22,194.16 257.7,194.35 258.18,193.51 258.66,195.23 259.14,195.46 259.62,192.07 260.1,194.54 260.57,193.88 261.05,193.86 261.53,194.43 262.01,192.61 262.49,192.75 262.97,192.49" fill="none" stroke="#4c3b92" stroke-width="0.75" stroke-linejoin="round"/>
<polygon points="271.2,194 271.95,189.77 272.25,181.92 272.35,160.97 272.42,129.24 272.65,128.24 272.95,128.24 273.18,129.24 273.25,160.97 273.35,181.92 273.65,189.77 274.4,194" fill="#7049b0" fill-opacity="0.7"/>
<polyline points="262.97,192.57 263.45,193.29 263.93,191.8 264.41,192.25 264.89,194.04 265.37,193.32 265.85,193.82 266.33,191.32 266.81,192.54 267.29,192.79 267.77,193.44 268.25,192.76 268.72,194.43 269.2,193.34 269.68,193.42 270.16,193.41 270.64,194.18 271.12,192.88 271.6,194.63 272.08,193.91 272.56,193.57 273.04,193.45 273.52,193.97 274,194.52 274.48,194.44 274.96,193.81 275.44,194.36 275.92,193.53 276.4,194.78 276.88,193.37 277.35,191.12 277.83,194.87 278.31,193.52 278.79,192.11 279.27,193.18 279.75,192.43 280.23,195.71 280.71,193.95 281.19,191.67 281.67,194 282.15,192.96 282.63,195.51" fill="none" stroke="#5f3e95" stroke-width="0.75" stroke-linejoin="round"/>
<polygon points="290.86,194 291.61,189.66 291.91,181.58 292.01,160.05 292.08,127.39 292.31,126.39 292.61,126.39 292.84,127.39 292.91,160.05 293.01,181.58 293.31,189.66 294.06,194" fill="#8449b6" fill-opacity="0.7"/>
<polyline points="282.63,192.24 283.11,190.93 283.59,193.47 284.07,193.02 284.55,192.94 285.03,191.04 285.5,193.87 285.98,195.24 286.46,191.3 286.94,194.69 287.42,192.77 287.9,195.98 288.38,193.88 288.86,193.19 289.34,194.62 289.82,193.98 290.3,192.75 290.78,194.18 291.26,192.84 291.74,191.43 292.22,195.63 292.7,193.02 293.18,192.73 293.65,193.77 294.13,191.68 294.61,191.91 295.09,192.85 295.57,192.83 296.05,193.48 296.53,194.63 297.01,192.88 297.49,193.94 297.97,194.06 298.45,192.21 298.93,193.65 299.41,192.36 299.89,194.57 300.37,193.9 300.85,193.42 301.33,191.93 301.8,193.53 302.28,192.56" fill="none" stroke="#703e9a" stroke-width="0.75" stroke-linejoin="round"/>
<polygon points="310.51,194 311.26,189.66 311.56,181.58 311.66,160.05 311.73,127.39 311.96,126.39 312.26,126.39 312.49,127.39 312.56,160.05 312.66,181.58 312.96,189.66 313.71,194" fill="#9a42b4" fill-opacity="0.7"/>
<polyline points="302.28,194.18 302.76,193.27 303.24,192.51 303.72,194.42 304.2,194.19 304.68,192.75 305.16,194.68 305.64,193.07 306.12,193.06 306.6,193.54 307.08,192.57 307.56,192.91 308.04,193.22 308.52,195.08 309,195.05 309.48,193.12 309.95,195.17 310.43,193.35 310.91,193.82 311.39,194.37 311.87,193.72 312.35,196.06 312.83,193.67 313.31,192.08 313.79,194.84 314.27,192.95 314.75,193.07 315.23,190.11 315.71,194.5 316.19,194.3 316.67,194.28 317.15,194.48 317.63,195.26 318.1,193.35 318.58,194.43 319.06,192.58 319.54,193.01 320.02,194.56 320.5,193.83 320.98,191.93 321.46,193.8 321.94,193.2" fill="none" stroke="#823899" stroke-width="0.75" stroke-linejoin="round"/>
<polygon points="330.17,194 330.92,189.77 331.22,181.92 331.32,160.97 331.39,129.24 331.62,128.24 331.92,128.24 332.15,129.24 332.22,160.97 332.32,181.92 332.62,189.77 333.37,194" fill="#c040ac" fill-opacity="0.7"/>
<polyline points="321.94,192.5 322.42,193.88 322.9,192.96 323.38,191.67 323.86,192.18 324.34,195.35 324.82,191.73 325.3,193.65 325.78,194.07 326.25,194.1 326.73,192.05 327.21,193.05 327.69,193.55 328.17,194.28 328.65,192.69 329.13,192.12 329.61,194.5 330.09,194.62 330.57,193.81 331.05,192.73 331.53,193.85 332.01,193.52 332.49,194.32 332.97,192.03 333.45,193.53 333.93,193.23 334.4,192.18 334.88,193.64 335.36,193.44 335.84,192.95 336.32,193.84 336.8,191.84 337.28,193.34 337.76,193.87 338.24,193.71 338.72,194.58 339.2,192.08 339.68,191.74 340.16,193.66 340.64,193.9 341.12,195.73 341.6,194.08" fill="none" stroke="#a33692" stroke-width="0.75" stroke-linejoin="round"/>
<polygon points="349.82,194 350.57,189.77 350.87,181.92 350.97,160.97 351.04,129.24 351.27,128.24 351.57,128.24 351.8,129.24 351.87,160.97 351.97,181.92 352.27,189.77 353.02,194" fill="#dc3e94" fill-opacity="0.7"/>
<polyline points="341.6,192.44 342.08,194.29 342.55,192.47 343.03,191.77 343.51,196.27 343.99,193.76 344.47,194.19 344.95,194.02 345.43,195.39 345.91,193.71 346.39,194.74 346.87,192.27 347.35,191.87 347.83,194.97 348.31,195.02 348.79,193.96 349.27,193.65 349.75,193.58 350.23,192.64 350.7,195.09 351.18,194.12 351.66,193.96 352.14,193.81 352.62,194.55 353.1,193.96 353.58,194.22 354.06,192.11 354.54,193.96 355.02,195.81 355.5,192.83 355.98,193.26 356.46,194.38 356.94,194.45 357.42,194.09 357.9,191.62 358.38,193.95 358.85,192.1 359.33,192.49 359.81,194 360.29,193.07 360.77,194.29 361.25,196.86" fill="none" stroke="#bb347d" stroke-width="0.75" stroke-linejoin="round"/>
<polygon points="369.48,194 370.23,189.82 370.53,182.05 370.63,161.35 370.7,129.99 370.93,128.99 371.23,128.99 371.46,129.99 371.53,161.35 371.63,182.05 371.93,189.82 372.68,194" fill="#e2387c" fill-opacity="0.7"/>
<polyline points="361.25,194.25 361.73,194.2 362.21,192.41 362.69,192.69 363.17,192.23 363.65,192.81 364.13,192.2 364.61,192.67 365.09,193.17 365.57,192.3 366.05,191.84 366.53,191.9 367,193.9 367.48,193.47 367.96,194.53 368.44,194.55 368.92,193.03 369.4,194.14 369.88,191.82 370.36,195.91 370.84,194.71 371.32,193.16 371.8,192.12 372.28,193.82 372.76,191.34 373.24,192.54 373.72,194.22 374.2,193.48 374.68,192.86 375.16,194.45 375.63,192.26 376.11,193.71 376.59,192.85 377.07,192.47 377.55,193.91 378.03,192.31 378.51,195.49 378.99,192.76 379.47,195.59 379.95,192.2 380.43,194.07 380.91,192.08" fill="none" stroke="#c02f69" stroke-width="0.75" stroke-linejoin="round"/>
<polygon points="389.14,194 389.89,189.97 390.19,182.52 390.29,162.65 390.36,132.59 390.59,131.59 390.89,131.59 391.12,132.59 391.19,162.65 391.29,182.52 391.59,189.97 392.34,194" fill="#e43266" fill-opacity="0.7"/>
<polyline points="380.91,191.92 381.39,193.58 381.87,194.15 382.35,192 382.83,194.7 383.31,192.52 383.78,193.54 384.26,193.82 384.74,194.05 385.22,191.42 385.7,195.18 386.18,194.02 386.66,192.93 387.14,192.27 387.62,191.54 388.1,191.9 388.58,194 389.06,193.02 389.54,192.16 390.02,192.82 390.5,195.12 390.98,193.04 391.46,192.76 391.93,194.89 392.41,193.91 392.89,193.45 393.37,192.73 393.85,191.69 394.33,192.11 394.81,192.87 395.29,193.16 395.77,193.79 396.25,194.01 396.73,193.65 397.21,193.64 397.69,192.29 398.17,191.03 398.65,192.83 399.13,192.35 399.61,192.68 400.08,193.1 400.56,192.03" fill="none" stroke="#c12a56" stroke-width="0.75" stroke-linejoin="round"/>
<polygon points="408.79,194 409.54,190.31 409.84,183.54 409.94,165.48 410.01,138.27 410.24,137.27 410.54,137.27 410.77,138.27 410.84,165.48 410.94,183.54 411.24,190.31 411.99,194" fill="#e42c54" fill-opacity="0.7"/>
<polyline points="400.56,192.18 401.04,193.29 401.52,193.53 402,192.68 402.48,193.95 402.96,193.16 403.44,192.28 403.92,193.44 404.4,195.47 404.88,192.66 405.36,194.68 405.84,194.92 406.32,195.05 406.8,192.5 407.28,195.62 407.76,193.53 408.23,193.12 408.71,193.15 409.19,194.06 409.67,193.46 410.15,193.21 410.63,194.81 411.11,192.6 411.59,192.25 412.07,194.27 412.55,194.17 413.03,194.6 413.51,192.22 413.99,194.59 414.47,193.93 414.95,195.34 415.43,192.03 415.91,193.64 416.38,193.09 416.86,191.65 417.34,192.61 417.82,194.64 418.3,192.88 418.78,192.61 419.26,194.36 419.74,194.49 420.22,194.49" fill="none" stroke="#c12547" stroke-width="0.75" stroke-linejoin="round"/>
<polygon points="428.45,194 429.2,190.26 429.5,183.37 429.6,165.01 429.67,137.31 429.9,136.31 430.2,136.31 430.43,137.31 430.5,165.01 430.6,183.37 430.9,190.26 431.65,194" fill="#e02a42" fill-opacity="0.7"/>
<polyline points="420.22,192.53 420.7,193.34 421.18,194.53 421.66,192.68 422.14,192.58 422.62,194.31 423.1,195.12 423.58,192.13 424.06,190.54 424.53,191.8 425.01,192.29 425.49,193.25 425.97,194.08 426.45,193.24 426.93,192.63 427.41,193.57 427.89,192.34 428.37,193.35 428.85,192.69 429.33,196.35 429.81,194.3 430.29,192.48 430.77,192.3 431.25,192.92 431.73,191.59 432.21,192.6 432.68,192.59 433.16,194.37 433.64,192.93 434.12,192.53 434.6,191.93 435.08,192.11 435.56,193.33 436.04,193.16 436.52,194.65 437,192.71 437.48,194.57 437.96,193.68 438.44,193.39 438.92,191.19 439.4,191.98 439.88,194.22" fill="none" stroke="#be2338" stroke-width="0.75" stroke-linejoin="round"/>
<polygon points="448.1,194 448.85,190.1 449.15,182.9 449.25,163.71 449.32,134.71 449.55,133.71 449.85,133.71 450.08,134.71 450.15,163.71 450.25,182.9 450.55,190.1 451.3,194" fill="#e02a36" fill-opacity="0.7"/>
<polyline points="439.88,194.94 440.36,193.63 440.83,194.24 441.31,192.95 441.79,192.99 442.27,192.67 442.75,194.47 443.23,193.78 443.71,193.14 444.19,193.04 444.67,194.01 445.15,193.76 445.63,192.48 446.11,195.29 446.59,193.68 447.07,193.41 447.55,195.03 448.03,194.53 448.51,193.3 448.98,193.99 449.46,192.22 449.94,192.7 450.42,190.91 450.9,194.74 451.38,191.31 451.86,194.15 452.34,192.49 452.82,192.32 453.3,193.19 453.78,193.69 454.26,194.07 454.74,195.35 455.22,193.79 455.7,194.37 456.18,192.74 456.66,194.19 457.13,193.57 457.61,192.89 458.09,193.29 458.57,193.33 459.05,193.61 459.53,193.84" fill="none" stroke="#be232d" stroke-width="0.75" stroke-linejoin="round"/>
<polygon points="467.76,194 468.51,189.66 468.81,181.58 468.91,160.05 468.98,127.39 469.21,126.39 469.51,126.39 469.74,127.39 469.81,160.05 469.91,181.58 470.21,189.66 470.96,194" fill="#e22830" fill-opacity="0.7"/>
<polyline points="459.53,192.84 460.01,192.59 460.49,194.22 460.97,191.53 461.45,192.72 461.93,195.11 462.41,190.42 462.89,192.64 463.37,194.16 463.85,191.58 464.33,196.26 464.81,190.55 465.28,194.98 465.76,195.11 466.24,194.41 466.72,193.16 467.2,193.79 467.68,192.41 468.16,194.29 468.64,192.17 469.12,193.1 469.6,194.5 470.08,192.17 470.56,193 471.04,193.58 471.52,191.92 472,194.68 472.48,193.77 472.96,191.73 473.44,193.35 473.91,192.55 474.39,192.68 474.87,193.48 475.35,192.62 475.83,194.46 476.31,192.62 476.79,194.48 477.27,193.35 477.75,194.34 478.23,192.8 478.71,192.84 479.19,192.13" fill="none" stroke="#c02228" stroke-width="0.75" stroke-linejoin="round"/>
<polygon points="487.42,194 488.17,189.58 488.47,181.35 488.57,159.4 488.64,126.09 488.87,125.09 489.17,125.09 489.4,126.09 489.47,159.4 489.57,181.35 489.87,189.58 490.62,194" fill="#e4262c" fill-opacity="0.7"/>
<polyline points="479.19,194.04 479.67,194.43 480.15,195.73 480.63,194.82 481.11,193.67 481.59,193.17 482.06,193.83 482.54,193.37 483.02,195.01 483.5,194.44 483.98,192.48 484.46,192.64 484.94,194.9 485.42,193.74 485.9,193.15 486.38,194.7 486.86,192.97 487.34,193.09 487.82,192.89 488.3,191.24 488.78,194.35 489.26,192.07 489.74,192.77 490.21,192.58 490.69,194.2 491.17,193.32 491.65,193.42 492.13,191.55 492.61,193.3 493.09,191.78 493.57,193.74 494.05,193.8 494.53,193.38 495.01,195.65 495.49,193.98 495.97,194.06 496.45,193.56 496.93,193.19 497.41,194.46 497.89,194.61 498.36,191.97 498.84,194.56" fill="none" stroke="#c12025" stroke-width="0.75" stroke-linejoin="round"/>
<polygon points="507.07,194 507.82,189.82 508.12,182.05 508.22,161.35 508.29,129.99 508.52,128.99 508.82,128.99 509.05,129.99 509.12,161.35 509.22,182.05 509.52,189.82 510.27,194" fill="#e62428" fill-opacity="0.7"/>
<polyline points="498.84,193.97 499.32,194.46 499.8,193.91 500.28,192.03 500.76,192.11 501.24,195.41 501.72,193.68 502.2,191.84 502.68,193.78 503.16,193 503.64,191.37 504.12,190.88 504.6,191.64 505.08,193.7 505.56,193.35 506.04,193.13 506.51,193.71 506.99,194.06 507.47,191.09 507.95,193.07 508.43,192.49 508.91,192.04 509.39,192.8 509.87,193.26 510.35,193.11 510.83,191.8 511.31,192.87 511.79,195.62 512.27,192.24 512.75,191.54 513.23,193.7 513.71,194.06 514.19,193.91 514.66,192.17 515.14,194.5 515.62,192.54 516.1,192.15 516.58,192.73 517.06,193.28 517.54,194.19 518.02,194.09 518.5,193.38" fill="none" stroke="#c31e22" stroke-width="0.75" stroke-linejoin="round"/>
<rect x="27.1" y="118.8" width="491.4" height="81" fill="none" stroke="#454545" stroke-width="0.95"/>
<line x1="36.93" y1="118.8" x2="36.93" y2="121.0" stroke="#454545" stroke-width="0.7"/>
<line x1="36.93" y1="199.8" x2="36.93" y2="197.60000000000002" stroke="#454545" stroke-width="0.7"/>
<line x1="56.58" y1="118.8" x2="56.58" y2="121.0" stroke="#454545" stroke-width="0.7"/>
<line x1="56.58" y1="199.8" x2="56.58" y2="197.60000000000002" stroke="#454545" stroke-width="0.7"/>
<line x1="76.24" y1="118.8" x2="76.24" y2="121.0" stroke="#454545" stroke-width="0.7"/>
<line x1="76.24" y1="199.8" x2="76.24" y2="197.60000000000002" stroke="#454545" stroke-width="0.7"/>
<line x1="95.9" y1="118.8" x2="95.9" y2="121.0" stroke="#454545" stroke-width="0.7"/>
<line x1="95.9" y1="199.8" x2="95.9" y2="197.60000000000002" stroke="#454545" stroke-width="0.7"/>
<line x1="115.55" y1="118.8" x2="115.55" y2="121.0" stroke="#454545" stroke-width="0.7"/>
<line x1="115.55" y1="199.8" x2="115.55" y2="197.60000000000002" stroke="#454545" stroke-width="0.7"/>
<line x1="135.21" y1="118.8" x2="135.21" y2="121.0" stroke="#454545" stroke-width="0.7"/>
<line x1="135.21" y1="199.8" x2="135.21" y2="197.60000000000002" stroke="#454545" stroke-width="0.7"/>
<line x1="154.86" y1="118.8" x2="154.86" y2="121.0" stroke="#454545" stroke-width="0.7"/>
<line x1="154.86" y1="199.8" x2="154.86" y2="197.60000000000002" stroke="#454545" stroke-width="0.7"/>
<line x1="174.52" y1="118.8" x2="174.52" y2="121.0" stroke="#454545" stroke-width="0.7"/>
<line x1="174.52" y1="199.8" x2="174.52" y2="197.60000000000002" stroke="#454545" stroke-width="0.7"/>
<line x1="194.18" y1="118.8" x2="194.18" y2="121.0" stroke="#454545" stroke-width="0.7"/>
<line x1="194.18" y1="199.8" x2="194.18" y2="197.60000000000002" stroke="#454545" stroke-width="0.7"/>
<line x1="213.83" y1="118.8" x2="213.83" y2="121.0" stroke="#454545" stroke-width="0.7"/>
<line x1="213.83" y1="199.8" x2="213.83" y2="197.60000000000002" stroke="#454545" stroke-width="0.7"/>
<line x1="233.49" y1="118.8" x2="233.49" y2="121.0" stroke="#454545" stroke-width="0.7"/>
<line x1="233.49" y1="199.8" x2="233.49" y2="197.60000000000002" stroke="#454545" stroke-width="0.7"/>
<line x1="253.14" y1="118.8" x2="253.14" y2="121.0" stroke="#454545" stroke-width="0.7"/>
<line x1="253.14" y1="199.8" x2="253.14" y2="197.60000000000002" stroke="#454545" stroke-width="0.7"/>
<line x1="272.8" y1="118.8" x2="272.8" y2="121.0" stroke="#454545" stroke-width="0.7"/>
<line x1="272.8" y1="199.8" x2="272.8" y2="197.60000000000002" stroke="#454545" stroke-width="0.7"/>
<line x1="292.46" y1="118.8" x2="292.46" y2="121.0" stroke="#454545" stroke-width="0.7"/>
<line x1="292.46" y1="199.8" x2="292.46" y2="197.60000000000002" stroke="#454545" stroke-width="0.7"/>
<line x1="312.11" y1="118.8" x2="312.11" y2="121.0" stroke="#454545" stroke-width="0.7"/>
<line x1="312.11" y1="199.8" x2="312.11" y2="197.60000000000002" stroke="#454545" stroke-width="0.7"/>
<line x1="331.77" y1="118.8" x2="331.77" y2="121.0" stroke="#454545" stroke-width="0.7"/>
<line x1="331.77" y1="199.8" x2="331.77" y2="197.60000000000002" stroke="#454545" stroke-width="0.7"/>
<line x1="351.42" y1="118.8" x2="351.42" y2="121.0" stroke="#454545" stroke-width="0.7"/>
<line x1="351.42" y1="199.8" x2="351.42" y2="197.60000000000002" stroke="#454545" stroke-width="0.7"/>
<line x1="371.08" y1="118.8" x2="371.08" y2="121.0" stroke="#454545" stroke-width="0.7"/>
<line x1="371.08" y1="199.8" x2="371.08" y2="197.60000000000002" stroke="#454545" stroke-width="0.7"/>
<line x1="390.74" y1="118.8" x2="390.74" y2="121.0" stroke="#454545" stroke-width="0.7"/>
<line x1="390.74" y1="199.8" x2="390.74" y2="197.60000000000002" stroke="#454545" stroke-width="0.7"/>
<line x1="410.39" y1="118.8" x2="410.39" y2="121.0" stroke="#454545" stroke-width="0.7"/>
<line x1="410.39" y1="199.8" x2="410.39" y2="197.60000000000002" stroke="#454545" stroke-width="0.7"/>
<line x1="430.05" y1="118.8" x2="430.05" y2="121.0" stroke="#454545" stroke-width="0.7"/>
<line x1="430.05" y1="199.8" x2="430.05" y2="197.60000000000002" stroke="#454545" stroke-width="0.7"/>
<line x1="449.7" y1="118.8" x2="449.7" y2="121.0" stroke="#454545" stroke-width="0.7"/>
<line x1="449.7" y1="199.8" x2="449.7" y2="197.60000000000002" stroke="#454545" stroke-width="0.7"/>
<line x1="469.36" y1="118.8" x2="469.36" y2="121.0" stroke="#454545" stroke-width="0.7"/>
<line x1="469.36" y1="199.8" x2="469.36" y2="197.60000000000002" stroke="#454545" stroke-width="0.7"/>
<line x1="489.02" y1="118.8" x2="489.02" y2="121.0" stroke="#454545" stroke-width="0.7"/>
<line x1="489.02" y1="199.8" x2="489.02" y2="197.60000000000002" stroke="#454545" stroke-width="0.7"/>
<line x1="508.67" y1="118.8" x2="508.67" y2="121.0" stroke="#454545" stroke-width="0.7"/>
<line x1="508.67" y1="199.8" x2="508.67" y2="197.60000000000002" stroke="#454545" stroke-width="0.7"/>
<g fill="#262626" stroke="#262626" stroke-width="0.2" font-size="7.3" text-anchor="middle">
<text x="36.93" y="209.6">1528</text>
<text x="76.24" y="209.6">1530</text>
<text x="115.55" y="209.6">1532</text>
<text x="154.86" y="209.6">1534</text>
<text x="194.18" y="209.6">1536</text>
<text x="233.49" y="209.6">1538</text>
<text x="272.8" y="209.6">1540</text>
<text x="312.11" y="209.6">1542</text>
<text x="351.42" y="209.6">1544</text>
<text x="390.74" y="209.6">1546</text>
<text x="430.05" y="209.6">1548</text>
<text x="469.36" y="209.6">1550</text>
<text x="508.67" y="209.6">1552</text>
</g>
<line x1="27.1" y1="193.7" x2="31.900000000000002" y2="193.7" stroke="#454545" stroke-width="0.8"/>
<line x1="518.5" y1="193.7" x2="513.7" y2="193.7" stroke="#454545" stroke-width="0.8"/>
<text x="24.2" y="196.4" fill="#262626" stroke="#262626" stroke-width="0.2" font-size="7.3" text-anchor="end">0</text>
<line x1="27.1" y1="159.5" x2="31.900000000000002" y2="159.5" stroke="#454545" stroke-width="0.8"/>
<line x1="518.5" y1="159.5" x2="513.7" y2="159.5" stroke="#454545" stroke-width="0.8"/>
<text x="24.2" y="162.2" fill="#262626" stroke="#262626" stroke-width="0.2" font-size="7.3" text-anchor="end">0.5</text>
<line x1="27.1" y1="125.3" x2="31.900000000000002" y2="125.3" stroke="#454545" stroke-width="0.8"/>
<line x1="518.5" y1="125.3" x2="513.7" y2="125.3" stroke="#454545" stroke-width="0.8"/>
<text x="24.2" y="128" fill="#262626" stroke="#262626" stroke-width="0.2" font-size="7.3" text-anchor="end">1</text>
<text x="272.8" y="218.7" fill="#262626" stroke="#262626" stroke-width="0.2" font-size="7.7" text-anchor="middle">Wavelength (nm)</text>
<text transform="translate(10.3,159.5) rotate(-90)" fill="#262626" stroke="#262626" stroke-width="0.2" font-size="7.7" text-anchor="middle">Intensity (a.u.)</text>
<text x="0.8" y="121.3" fill="#262626" stroke="#262626" stroke-width="0.3" font-size="9.4">(b)</text>
</g>
<g id="panel-c">
<circle cx="31.75" cy="261.7" r="1.9" fill="#168e9a"/>
<circle cx="41.06" cy="248.1" r="1.9" fill="#1a98c4"/>
<circle cx="50.37" cy="277.44" r="1.9" fill="#2298dc"/>
<circle cx="59.68" cy="260.03" r="1.9" fill="#2084bc"/>
<circle cx="68.99" cy="243.33" r="1.9" fill="#2668b4"/>
<circle cx="78.3" cy="244.76" r="1.9" fill="#285aa8"/>
<circle cx="87.61" cy="265.27" r="1.9" fill="#26468e"/>
<circle cx="96.92" cy="262.89" r="1.9" fill="#26408a"/>
<circle cx="106.23" cy="266.94" r="1.9" fill="#263c86"/>
<circle cx="115.54" cy="255.5" r="1.9" fill="#283a84"/>
<circle cx="124.85" cy="289.36" r="1.9" fill="#2e3684"/>
<circle cx="134.16" cy="251.68" r="1.9" fill="#3a3684"/>
<circle cx="143.47" cy="261.7" r="1.9" fill="#46388a"/>
<circle cx="152.78" cy="251.68" r="1.9" fill="#5c3c90"/>
<circle cx="162.09" cy="242.38" r="1.9" fill="#9040a0"/>
<circle cx="171.4" cy="272.91" r="1.9" fill="#b0409c"/>
<circle cx="180.71" cy="261.22" r="1.9" fill="#d03c92"/>
<circle cx="190.02" cy="269.81" r="1.9" fill="#d83478"/>
<circle cx="199.33" cy="276.48" r="1.9" fill="#e03062"/>
<circle cx="208.64" cy="269.57" r="1.9" fill="#e02a4c"/>
<circle cx="217.95" cy="291.75" r="1.9" fill="#e0283c"/>
<circle cx="227.26" cy="273.86" r="1.9" fill="#e02834"/>
<circle cx="236.57" cy="315.84" r="1.9" fill="#e2262e"/>
<circle cx="245.88" cy="310.83" r="1.9" fill="#e4242a"/>
<circle cx="255.19" cy="308.68" r="1.9" fill="#e62428"/>
<rect x="27.4" y="229.5" width="230.1" height="95.4" fill="none" stroke="#454545" stroke-width="0.95"/>
<g fill="#262626" stroke="#262626" stroke-width="0.2" font-size="7.3" text-anchor="middle">
<line x1="31.75" y1="229.5" x2="31.75" y2="231.7" stroke="#454545" stroke-width="0.7"/>
<line x1="31.75" y1="324.9" x2="31.75" y2="322.7" stroke="#454545" stroke-width="0.7"/>
<text x="31.75" y="334.8">1528</text>
<line x1="68.99" y1="229.5" x2="68.99" y2="231.7" stroke="#454545" stroke-width="0.7"/>
<line x1="68.99" y1="324.9" x2="68.99" y2="322.7" stroke="#454545" stroke-width="0.7"/>
<text x="68.99" y="334.8">1532</text>
<line x1="106.23" y1="229.5" x2="106.23" y2="231.7" stroke="#454545" stroke-width="0.7"/>
<line x1="106.23" y1="324.9" x2="106.23" y2="322.7" stroke="#454545" stroke-width="0.7"/>
<text x="106.23" y="334.8">1536</text>
<line x1="143.47" y1="229.5" x2="143.47" y2="231.7" stroke="#454545" stroke-width="0.7"/>
<line x1="143.47" y1="324.9" x2="143.47" y2="322.7" stroke="#454545" stroke-width="0.7"/>
<text x="143.47" y="334.8">1540</text>
<line x1="180.71" y1="229.5" x2="180.71" y2="231.7" stroke="#454545" stroke-width="0.7"/>
<line x1="180.71" y1="324.9" x2="180.71" y2="322.7" stroke="#454545" stroke-width="0.7"/>
<text x="180.71" y="334.8">1544</text>
<line x1="217.95" y1="229.5" x2="217.95" y2="231.7" stroke="#454545" stroke-width="0.7"/>
<line x1="217.95" y1="324.9" x2="217.95" y2="322.7" stroke="#454545" stroke-width="0.7"/>
<text x="217.95" y="334.8">1548</text>
<line x1="255.19" y1="229.5" x2="255.19" y2="231.7" stroke="#454545" stroke-width="0.7"/>
<line x1="255.19" y1="324.9" x2="255.19" y2="322.7" stroke="#454545" stroke-width="0.7"/>
<text x="255.19" y="334.8">1552</text>
</g>
<text x="24.2" y="327.6" fill="#262626" stroke="#262626" stroke-width="0.2" font-size="7.3" text-anchor="end">0.6</text>
<line x1="27.4" y1="301.05" x2="29.599999999999998" y2="301.05" stroke="#454545" stroke-width="0.7"/>
<line x1="257.5" y1="301.05" x2="255.3" y2="301.05" stroke="#454545" stroke-width="0.7"/>
<text x="24.2" y="303.75" fill="#262626" stroke="#262626" stroke-width="0.2" font-size="7.3" text-anchor="end">0.7</text>
<line x1="27.4" y1="277.2" x2="29.599999999999998" y2="277.2" stroke="#454545" stroke-width="0.7"/>
<line x1="257.5" y1="277.2" x2="255.3" y2="277.2" stroke="#454545" stroke-width="0.7"/>
<text x="24.2" y="279.9" fill="#262626" stroke="#262626" stroke-width="0.2" font-size="7.3" text-anchor="end">0.8</text>
<line x1="27.4" y1="253.35" x2="29.599999999999998" y2="253.35" stroke="#454545" stroke-width="0.7"/>
<line x1="257.5" y1="253.35" x2="255.3" y2="253.35" stroke="#454545" stroke-width="0.7"/>
<text x="24.2" y="256.05" fill="#262626" stroke="#262626" stroke-width="0.2" font-size="7.3" text-anchor="end">0.9</text>
<text x="24.2" y="232.2" fill="#262626" stroke="#262626" stroke-width="0.2" font-size="7.3" text-anchor="end">1</text>
<text x="143" y="343" fill="#262626" stroke="#262626" stroke-width="0.2" font-size="7.7" text-anchor="middle">Wavelength (nm)</text>
<text transform="translate(9.6,277.2) rotate(-90)" fill="#262626" stroke="#262626" stroke-width="0.2" font-size="7.7" text-anchor="middle">Resolution (pm)</text>
<text x="-0.6" y="232.6" fill="#262626" stroke="#262626" stroke-width="0.3" font-size="9.4">(c)</text>
</g>
<g id="panel-d">
<polygon points="321.77,314.06 319.25,318.16 324.29,318.16" fill="none" stroke="#E2742E" stroke-width="0.75"/>
<polygon points="329.06,307.88 326.54,311.97 331.58,311.97" fill="none" stroke="#E2742E" stroke-width="0.75"/>
<polygon points="336.35,305.35 333.83,309.44 338.87,309.44" fill="none" stroke="#E2742E" stroke-width="0.75"/>
<polygon points="343.64,302.54 341.12,306.63 346.16,306.63" fill="none" stroke="#E2742E" stroke-width="0.75"/>
<polygon points="350.93,297.2 348.41,301.3 353.45,301.3" fill="none" stroke="#E2742E" stroke-width="0.75"/>
<polygon points="358.22,292.99 355.7,297.08 360.74,297.08" fill="none" stroke="#E2742E" stroke-width="0.75"/>
<polygon points="365.51,287.65 362.99,291.74 368.03,291.74" fill="none" stroke="#E2742E" stroke-width="0.75"/>
<polygon points="372.8,285.4 370.28,289.49 375.32,289.49" fill="none" stroke="#E2742E" stroke-width="0.75"/>
<polygon points="380.09,277.53 377.57,281.63 382.61,281.63" fill="none" stroke="#E2742E" stroke-width="0.75"/>
<polygon points="387.38,272.47 384.86,276.57 389.9,276.57" fill="none" stroke="#E2742E" stroke-width="0.75"/>
<polygon points="394.67,270.5 392.15,274.6 397.19,274.6" fill="none" stroke="#E2742E" stroke-width="0.75"/>
<polygon points="401.96,266.85 399.44,270.95 404.48,270.95" fill="none" stroke="#E2742E" stroke-width="0.75"/>
<polygon points="409.25,263.2 406.73,267.29 411.77,267.29" fill="none" stroke="#E2742E" stroke-width="0.75"/>
<polygon points="416.54,259.55 414.02,263.64 419.06,263.64" fill="none" stroke="#E2742E" stroke-width="0.75"/>
<polygon points="423.83,256.74 421.31,260.83 426.35,260.83" fill="none" stroke="#E2742E" stroke-width="0.75"/>
<polygon points="431.12,253.65 428.6,257.74 433.64,257.74" fill="none" stroke="#E2742E" stroke-width="0.75"/>
<polygon points="438.41,251.68 435.89,255.77 440.93,255.77" fill="none" stroke="#E2742E" stroke-width="0.75"/>
<polygon points="445.7,249.15 443.18,253.24 448.22,253.24" fill="none" stroke="#E2742E" stroke-width="0.75"/>
<polygon points="452.99,246.62 450.47,250.72 455.51,250.72" fill="none" stroke="#E2742E" stroke-width="0.75"/>
<polygon points="460.28,243.81 457.76,247.91 462.8,247.91" fill="none" stroke="#E2742E" stroke-width="0.75"/>
<polygon points="467.57,242.69 465.05,246.78 470.09,246.78" fill="none" stroke="#E2742E" stroke-width="0.75"/>
<polygon points="474.86,241 472.34,245.09 477.38,245.09" fill="none" stroke="#E2742E" stroke-width="0.75"/>
<polygon points="482.15,239.88 479.63,243.97 484.67,243.97" fill="none" stroke="#E2742E" stroke-width="0.75"/>
<polygon points="489.44,238.75 486.92,242.85 491.96,242.85" fill="none" stroke="#E2742E" stroke-width="0.75"/>
<polygon points="496.73,237.63 494.21,241.72 499.25,241.72" fill="none" stroke="#E2742E" stroke-width="0.75"/>
<polygon points="504.02,237.63 501.5,241.72 506.54,241.72" fill="none" stroke="#E2742E" stroke-width="0.75"/>
<circle cx="321.77" cy="313.39" r="1.95" fill="none" stroke="#1F3A85" stroke-width="1.05"/>
<circle cx="329.06" cy="310.19" r="1.95" fill="none" stroke="#1F3A85" stroke-width="1.05"/>
<circle cx="336.35" cy="311.59" r="1.95" fill="none" stroke="#1F3A85" stroke-width="1.05"/>
<circle cx="343.64" cy="305.13" r="1.95" fill="none" stroke="#1F3A85" stroke-width="1.05"/>
<circle cx="350.93" cy="300.92" r="1.95" fill="none" stroke="#1F3A85" stroke-width="1.05"/>
<circle cx="358.22" cy="296.14" r="1.95" fill="none" stroke="#1F3A85" stroke-width="1.05"/>
<circle cx="365.51" cy="293.89" r="1.95" fill="none" stroke="#1F3A85" stroke-width="1.05"/>
<circle cx="372.8" cy="290.24" r="1.95" fill="none" stroke="#1F3A85" stroke-width="1.05"/>
<circle cx="380.09" cy="284.34" r="1.95" fill="none" stroke="#1F3A85" stroke-width="1.05"/>
<circle cx="387.38" cy="279.56" r="1.95" fill="none" stroke="#1F3A85" stroke-width="1.05"/>
<circle cx="394.67" cy="274.5" r="1.95" fill="none" stroke="#1F3A85" stroke-width="1.05"/>
<circle cx="401.96" cy="269.72" r="1.95" fill="none" stroke="#1F3A85" stroke-width="1.05"/>
<circle cx="409.25" cy="265.79" r="1.95" fill="none" stroke="#1F3A85" stroke-width="1.05"/>
<circle cx="416.54" cy="263.71" r="1.95" fill="none" stroke="#1F3A85" stroke-width="1.05"/>
<circle cx="423.83" cy="259.38" r="1.95" fill="none" stroke="#1F3A85" stroke-width="1.05"/>
<circle cx="431.12" cy="256.4" r="1.95" fill="none" stroke="#1F3A85" stroke-width="1.05"/>
<circle cx="438.41" cy="254.55" r="1.95" fill="none" stroke="#1F3A85" stroke-width="1.05"/>
<circle cx="445.7" cy="251.91" r="1.95" fill="none" stroke="#1F3A85" stroke-width="1.05"/>
<circle cx="452.99" cy="249.77" r="1.95" fill="none" stroke="#1F3A85" stroke-width="1.05"/>
<circle cx="460.28" cy="247.24" r="1.95" fill="none" stroke="#1F3A85" stroke-width="1.05"/>
<circle cx="467.57" cy="246.06" r="1.95" fill="none" stroke="#1F3A85" stroke-width="1.05"/>
<circle cx="474.86" cy="244.66" r="1.95" fill="none" stroke="#1F3A85" stroke-width="1.05"/>
<circle cx="482.15" cy="243.48" r="1.95" fill="none" stroke="#1F3A85" stroke-width="1.05"/>
<circle cx="489.44" cy="242.69" r="1.95" fill="none" stroke="#1F3A85" stroke-width="1.05"/>
<circle cx="496.73" cy="241.91" r="1.95" fill="none" stroke="#1F3A85" stroke-width="1.05"/>
<circle cx="504.02" cy="241.91" r="1.95" fill="none" stroke="#1F3A85" stroke-width="1.05"/>
<rect x="320.17" y="305.1" width="3.2" height="3.2" fill="none" stroke="#E03040" stroke-width="1.0"/>
<rect x="327.46" y="302.41" width="3.2" height="3.2" fill="none" stroke="#E03040" stroke-width="1.0"/>
<rect x="334.75" y="294.88" width="3.2" height="3.2" fill="none" stroke="#E03040" stroke-width="1.0"/>
<rect x="342.04" y="292.85" width="3.2" height="3.2" fill="none" stroke="#E03040" stroke-width="1.0"/>
<rect x="349.33" y="286.11" width="3.2" height="3.2" fill="none" stroke="#E03040" stroke-width="1.0"/>
<rect x="356.62" y="283.86" width="3.2" height="3.2" fill="none" stroke="#E03040" stroke-width="1.0"/>
<rect x="363.91" y="279.08" width="3.2" height="3.2" fill="none" stroke="#E03040" stroke-width="1.0"/>
<rect x="371.2" y="273.74" width="3.2" height="3.2" fill="none" stroke="#E03040" stroke-width="1.0"/>
<rect x="378.49" y="271.21" width="3.2" height="3.2" fill="none" stroke="#E03040" stroke-width="1.0"/>
<rect x="385.78" y="266.44" width="3.2" height="3.2" fill="none" stroke="#E03040" stroke-width="1.0"/>
<rect x="393.07" y="264.75" width="3.2" height="3.2" fill="none" stroke="#E03040" stroke-width="1.0"/>
<rect x="400.36" y="259.86" width="3.2" height="3.2" fill="none" stroke="#E03040" stroke-width="1.0"/>
<rect x="407.65" y="256.88" width="3.2" height="3.2" fill="none" stroke="#E03040" stroke-width="1.0"/>
<rect x="414.94" y="255.2" width="3.2" height="3.2" fill="none" stroke="#E03040" stroke-width="1.0"/>
<rect x="422.23" y="251.26" width="3.2" height="3.2" fill="none" stroke="#E03040" stroke-width="1.0"/>
<rect x="429.52" y="250.31" width="3.2" height="3.2" fill="none" stroke="#E03040" stroke-width="1.0"/>
<rect x="436.81" y="246.99" width="3.2" height="3.2" fill="none" stroke="#E03040" stroke-width="1.0"/>
<rect x="444.1" y="244.3" width="3.2" height="3.2" fill="none" stroke="#E03040" stroke-width="1.0"/>
<rect x="451.39" y="242.38" width="3.2" height="3.2" fill="none" stroke="#E03040" stroke-width="1.0"/>
<rect x="458.68" y="241.49" width="3.2" height="3.2" fill="none" stroke="#E03040" stroke-width="1.0"/>
<rect x="465.97" y="240.36" width="3.2" height="3.2" fill="none" stroke="#E03040" stroke-width="1.0"/>
<rect x="473.26" y="238.45" width="3.2" height="3.2" fill="none" stroke="#E03040" stroke-width="1.0"/>
<rect x="480.55" y="238.79" width="3.2" height="3.2" fill="none" stroke="#E03040" stroke-width="1.0"/>
<rect x="487.84" y="238.06" width="3.2" height="3.2" fill="none" stroke="#E03040" stroke-width="1.0"/>
<rect x="495.13" y="237.61" width="3.2" height="3.2" fill="none" stroke="#E03040" stroke-width="1.0"/>
<rect x="502.42" y="237.61" width="3.2" height="3.2" fill="none" stroke="#E03040" stroke-width="1.0"/>
<rect x="300.8" y="229.5" width="217.9" height="95.4" fill="none" stroke="#454545" stroke-width="0.95"/>
<g fill="#262626" stroke="#262626" stroke-width="0.2" font-size="7.3" text-anchor="middle">
<line x1="336.35" y1="229.5" x2="336.35" y2="231.7" stroke="#454545" stroke-width="0.7"/>
<line x1="336.35" y1="324.9" x2="336.35" y2="322.7" stroke="#454545" stroke-width="0.7"/>
<text x="336.15" y="334.8">-25</text>
<line x1="372.8" y1="229.5" x2="372.8" y2="231.7" stroke="#454545" stroke-width="0.7"/>
<line x1="372.8" y1="324.9" x2="372.8" y2="322.7" stroke="#454545" stroke-width="0.7"/>
<text x="372.6" y="334.8">-20</text>
<line x1="409.25" y1="229.5" x2="409.25" y2="231.7" stroke="#454545" stroke-width="0.7"/>
<line x1="409.25" y1="324.9" x2="409.25" y2="322.7" stroke="#454545" stroke-width="0.7"/>
<text x="409.05" y="334.8">-15</text>
<line x1="445.7" y1="229.5" x2="445.7" y2="231.7" stroke="#454545" stroke-width="0.7"/>
<line x1="445.7" y1="324.9" x2="445.7" y2="322.7" stroke="#454545" stroke-width="0.7"/>
<text x="445.5" y="334.8">-10</text>
<line x1="482.15" y1="229.5" x2="482.15" y2="231.7" stroke="#454545" stroke-width="0.7"/>
<line x1="482.15" y1="324.9" x2="482.15" y2="322.7" stroke="#454545" stroke-width="0.7"/>
<text x="481.95" y="334.8">-5</text>
<text x="518.6" y="334.8">0</text>
</g>
<line x1="300.8" y1="240.5" x2="303.0" y2="240.5" stroke="#454545" stroke-width="0.7"/>
<line x1="518.7" y1="240.5" x2="516.5" y2="240.5" stroke="#454545" stroke-width="0.7"/>
<text x="298.5" y="243.2" fill="#262626" stroke="#262626" stroke-width="0.2" font-size="7.3" text-anchor="end">0</text>
<line x1="300.8" y1="268.6" x2="303.0" y2="268.6" stroke="#454545" stroke-width="0.7"/>
<line x1="518.7" y1="268.6" x2="516.5" y2="268.6" stroke="#454545" stroke-width="0.7"/>
<text x="298.5" y="271.3" fill="#262626" stroke="#262626" stroke-width="0.2" font-size="7.3" text-anchor="end">-5</text>
<line x1="300.8" y1="296.7" x2="303.0" y2="296.7" stroke="#454545" stroke-width="0.7"/>
<line x1="518.7" y1="296.7" x2="516.5" y2="296.7" stroke="#454545" stroke-width="0.7"/>
<text x="298.5" y="299.4" fill="#262626" stroke="#262626" stroke-width="0.2" font-size="7.3" text-anchor="end">-10</text>
<text x="298.5" y="327.5" fill="#262626" stroke="#262626" stroke-width="0.2" font-size="7.3" text-anchor="end">-15</text>
<text x="410" y="343" fill="#262626" stroke="#262626" stroke-width="0.2" font-size="7.7" text-anchor="middle">Input power (dBm)</text>
<text transform="translate(285.3,277.2) rotate(-90)" fill="#262626" stroke="#262626" stroke-width="0.2" font-size="7.7" text-anchor="middle">Intensity (dBV)</text>
<text x="275.8" y="232.6" fill="#262626" stroke="#262626" stroke-width="0.3" font-size="9.4">(d)</text>
<polygon points="468.7,288.09 466.18,292.19 471.22,292.19" fill="none" stroke="#E2742E" stroke-width="0.75"/>
<circle cx="468.7" cy="302.4" r="1.95" fill="none" stroke="#1F3A85" stroke-width="1.05"/>
<rect x="467.1" y="312.6" width="3.2" height="3.2" fill="none" stroke="#E03040" stroke-width="1.0"/>
<text x="477.6" y="292.8" fill="#262626" stroke="#262626" stroke-width="0.2" font-size="7.5">1535 nm</text>
<text x="477.6" y="305.1" fill="#262626" stroke="#262626" stroke-width="0.2" font-size="7.5">1540 nm</text>
<text x="477.6" y="317.1" fill="#262626" stroke="#262626" stroke-width="0.2" font-size="7.5">1545 nm</text>
</g>
</svg>
</body></html>
